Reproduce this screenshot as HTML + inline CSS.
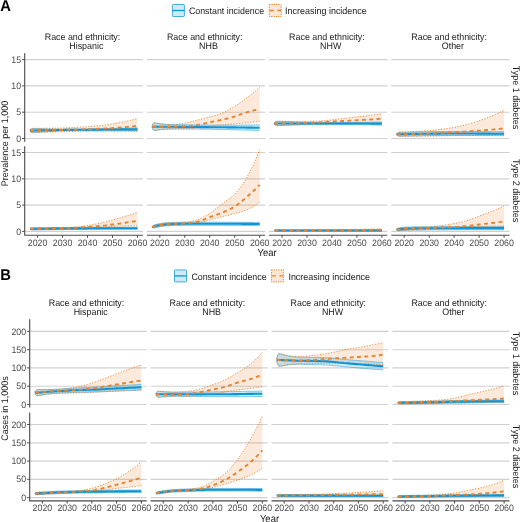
<!DOCTYPE html>
<html><head><meta charset="utf-8"><style>
html,body{margin:0;padding:0;background:#fff;}
svg{display:block;will-change:transform;}
text{font-family:"Liberation Sans", sans-serif;text-rendering:geometricPrecision;}
</style></head><body>
<svg width="520" height="522" viewBox="0 0 520 522">
<rect width="520" height="522" fill="#fff"/>
<text transform="translate(82.5 39.8) scale(0.943 1)" font-size="9.43" text-anchor="middle" fill="#1a1a1a" font-weight="normal">Race and ethnicity:</text>
<text transform="translate(86.3 49) scale(0.943 1)" font-size="9.43" text-anchor="middle" fill="#1a1a1a" font-weight="normal">Hispanic</text>
<text transform="translate(204.7 39.8) scale(0.943 1)" font-size="9.43" text-anchor="middle" fill="#1a1a1a" font-weight="normal">Race and ethnicity:</text>
<text transform="translate(208.5 49) scale(0.943 1)" font-size="9.43" text-anchor="middle" fill="#1a1a1a" font-weight="normal">NHB</text>
<text transform="translate(326.9 39.8) scale(0.943 1)" font-size="9.43" text-anchor="middle" fill="#1a1a1a" font-weight="normal">Race and ethnicity:</text>
<text transform="translate(330.7 49) scale(0.943 1)" font-size="9.43" text-anchor="middle" fill="#1a1a1a" font-weight="normal">NHW</text>
<text transform="translate(449.1 39.8) scale(0.943 1)" font-size="9.43" text-anchor="middle" fill="#1a1a1a" font-weight="normal">Race and ethnicity:</text>
<text transform="translate(452.9 49) scale(0.943 1)" font-size="9.43" text-anchor="middle" fill="#1a1a1a" font-weight="normal">Other</text>
<line x1="24.7" x2="142.9" y1="138.5" y2="138.5" stroke="#d0d0d0" stroke-width="1.15"/>
<line x1="24.7" x2="142.9" y1="112.2" y2="112.2" stroke="#d0d0d0" stroke-width="1.15"/>
<line x1="24.7" x2="142.9" y1="85.9" y2="85.9" stroke="#d0d0d0" stroke-width="1.15"/>
<line x1="24.7" x2="142.9" y1="59.6" y2="59.6" stroke="#d0d0d0" stroke-width="1.15"/>
<path d="M29.9,130.6 L30.1,129.9 L30.6,129.2 L31.4,128.7 L32.4,128.4 L33.4,128.3 L35.9,128.3 L38.4,128.3 L40.9,128.3 L43.4,128.3 L45.8,128.2 L48.3,128.2 L50.8,128.2 L53.3,128.2 L55.7,128.1 L58.2,128.1 L60.7,128 L63.2,128 L65.7,127.9 L68.1,127.8 L70.6,127.7 L73.1,127.6 L75.6,127.5 L78.1,127.3 L80.5,127.2 L83,127 L85.5,126.8 L88,126.6 L90.4,126.4 L92.9,126.2 L95.4,126 L97.9,125.8 L100.4,125.6 L102.8,125.3 L105.3,125 L107.8,124.7 L110.3,124.4 L112.7,124 L115.2,123.6 L117.7,123.1 L120.2,122.6 L122.7,122.1 L125.1,121.6 L127.6,121 L130.1,120.4 L132.6,119.8 L135,119.2 L137.5,118.5 L137.5,131.2 L135,131.2 L132.6,131.2 L130.1,131.2 L127.6,131.2 L125.1,131.2 L122.7,131.2 L120.2,131.2 L117.7,131.2 L115.2,131.2 L112.7,131.2 L110.3,131.2 L107.8,131.2 L105.3,131.2 L102.8,131.2 L100.4,131.2 L97.9,131.2 L95.4,131.2 L92.9,131.2 L90.4,131.2 L88,131.3 L85.5,131.3 L83,131.3 L80.5,131.3 L78.1,131.4 L75.6,131.4 L73.1,131.5 L70.6,131.5 L68.1,131.5 L65.7,131.6 L63.2,131.7 L60.7,131.7 L58.2,131.8 L55.7,131.8 L53.3,131.9 L50.8,132 L48.3,132.1 L45.8,132.2 L43.4,132.2 L40.9,132.3 L38.4,132.4 L35.9,132.5 L33.4,132.6 L32.4,132.5 L31.4,132.3 L30.6,131.8 L30.1,131.3 L29.9,130.6Z" fill="#e5832f" fill-opacity="0.17" stroke="none"/>
<path d="M29.9,130.6 L30.1,129.9 L30.6,129.2 L31.4,128.7 L32.4,128.5 L33.4,128.4 L35.9,128.5 L38.4,128.6 L40.9,128.7 L43.4,128.8 L45.8,128.9 L48.3,128.9 L50.8,129 L53.3,129 L55.7,129.1 L58.2,129.1 L60.7,129.2 L63.2,129.2 L65.7,129.2 L68.1,129.2 L70.6,129.2 L73.1,129.2 L75.6,129.2 L78.1,129.2 L80.5,129.2 L83,129.1 L85.5,129.1 L88,129.1 L90.4,129 L92.9,129 L95.4,129 L97.9,128.9 L100.4,128.9 L102.8,128.8 L105.3,128.7 L107.8,128.7 L110.3,128.6 L112.7,128.5 L115.2,128.5 L117.7,128.4 L120.2,128.3 L122.7,128.3 L125.1,128.2 L127.6,128.1 L130.1,128 L132.6,128 L135,127.9 L137.5,127.8 L137.5,131 L135,130.9 L132.6,130.8 L130.1,130.8 L127.6,130.7 L125.1,130.7 L122.7,130.6 L120.2,130.6 L117.7,130.5 L115.2,130.5 L112.7,130.4 L110.3,130.4 L107.8,130.3 L105.3,130.3 L102.8,130.3 L100.4,130.3 L97.9,130.2 L95.4,130.2 L92.9,130.2 L90.4,130.2 L88,130.2 L85.5,130.3 L83,130.3 L80.5,130.3 L78.1,130.3 L75.6,130.4 L73.1,130.5 L70.6,130.5 L68.1,130.6 L65.7,130.7 L63.2,130.8 L60.7,130.9 L58.2,131 L55.7,131.1 L53.3,131.2 L50.8,131.4 L48.3,131.5 L45.8,131.7 L43.4,131.9 L40.9,132.1 L38.4,132.3 L35.9,132.5 L33.4,132.7 L32.4,132.7 L31.4,132.4 L30.6,132 L30.1,131.3 L29.9,130.6Z" fill="#0d96d6" fill-opacity="0.2" stroke="none"/>
<path d="M137.5,131 L135,130.9 L132.6,130.8 L130.1,130.8 L127.6,130.7 L125.1,130.7 L122.7,130.6 L120.2,130.6 L117.7,130.5 L115.2,130.5 L112.7,130.4 L110.3,130.4 L107.8,130.3 L105.3,130.3 L102.8,130.3 L100.4,130.3 L97.9,130.2 L95.4,130.2 L92.9,130.2 L90.4,130.2 L88,130.2 L85.5,130.3 L83,130.3 L80.5,130.3 L78.1,130.3 L75.6,130.4 L73.1,130.5 L70.6,130.5 L68.1,130.6 L65.7,130.7 L63.2,130.8 L60.7,130.9 L58.2,131 L55.7,131.1 L53.3,131.2 L50.8,131.4 L48.3,131.5 L45.8,131.7 L43.4,131.9 L40.9,132.1 L38.4,132.3 L35.9,132.5 L33.4,132.7 L32.4,132.7 L31.4,132.4 L30.6,132 L30.1,131.3 L29.9,130.6 L30.1,129.9 L30.6,129.2 L31.4,128.7 L32.4,128.5 L33.4,128.4 L35.9,128.5 L38.4,128.6 L40.9,128.7 L43.4,128.8 L45.8,128.9 L48.3,128.9 L50.8,129 L53.3,129 L55.7,129.1 L58.2,129.1 L60.7,129.2 L63.2,129.2 L65.7,129.2 L68.1,129.2 L70.6,129.2 L73.1,129.2 L75.6,129.2 L78.1,129.2 L80.5,129.2 L83,129.1 L85.5,129.1 L88,129.1 L90.4,129 L92.9,129 L95.4,129 L97.9,128.9 L100.4,128.9 L102.8,128.8 L105.3,128.7 L107.8,128.7 L110.3,128.6 L112.7,128.5 L115.2,128.5 L117.7,128.4 L120.2,128.3 L122.7,128.3 L125.1,128.2 L127.6,128.1 L130.1,128 L132.6,128 L135,127.9 L137.5,127.8" fill="none" stroke="#0d96d6" stroke-width="0.6" stroke-opacity="0.8"/>
<path d="M137.5,131.2 L135,131.2 L132.6,131.2 L130.1,131.2 L127.6,131.2 L125.1,131.2 L122.7,131.2 L120.2,131.2 L117.7,131.2 L115.2,131.2 L112.7,131.2 L110.3,131.2 L107.8,131.2 L105.3,131.2 L102.8,131.2 L100.4,131.2 L97.9,131.2 L95.4,131.2 L92.9,131.2 L90.4,131.2 L88,131.3 L85.5,131.3 L83,131.3 L80.5,131.3 L78.1,131.4 L75.6,131.4 L73.1,131.5 L70.6,131.5 L68.1,131.5 L65.7,131.6 L63.2,131.7 L60.7,131.7 L58.2,131.8 L55.7,131.8 L53.3,131.9 L50.8,132 L48.3,132.1 L45.8,132.2 L43.4,132.2 L40.9,132.3 L38.4,132.4 L35.9,132.5 L33.4,132.6 L32.4,132.5 L31.4,132.3 L30.6,131.8 L30.1,131.3 L29.9,130.6 L30.1,129.9 L30.6,129.2 L31.4,128.7 L32.4,128.4 L33.4,128.3 L35.9,128.3 L38.4,128.3 L40.9,128.3 L43.4,128.3 L45.8,128.2 L48.3,128.2 L50.8,128.2 L53.3,128.2 L55.7,128.1 L58.2,128.1 L60.7,128 L63.2,128 L65.7,127.9 L68.1,127.8 L70.6,127.7 L73.1,127.6 L75.6,127.5 L78.1,127.3 L80.5,127.2 L83,127 L85.5,126.8 L88,126.6 L90.4,126.4 L92.9,126.2 L95.4,126 L97.9,125.8 L100.4,125.6 L102.8,125.3 L105.3,125 L107.8,124.7 L110.3,124.4 L112.7,124 L115.2,123.6 L117.7,123.1 L120.2,122.6 L122.7,122.1 L125.1,121.6 L127.6,121 L130.1,120.4 L132.6,119.8 L135,119.2 L137.5,118.5" fill="none" stroke="#e5832f" stroke-width="0.9" stroke-dasharray="1.2 1.6"/>
<path d="M30.1,130.6 L30.6,130.6 L31.4,130.6 L32.4,130.6 L33.4,130.5 L35.9,130.5 L38.4,130.4 L40.9,130.4 L43.4,130.3 L45.8,130.3 L48.3,130.2 L50.8,130.2 L53.3,130.1 L55.7,130.1 L58.2,130 L60.7,130 L63.2,130 L65.7,129.9 L68.1,129.9 L70.6,129.9 L73.1,129.8 L75.6,129.8 L78.1,129.8 L80.5,129.7 L83,129.7 L85.5,129.7 L88,129.7 L90.4,129.6 L92.9,129.6 L95.4,129.6 L97.9,129.6 L100.4,129.6 L102.8,129.5 L105.3,129.5 L107.8,129.5 L110.3,129.5 L112.7,129.5 L115.2,129.5 L117.7,129.5 L120.2,129.4 L122.7,129.4 L125.1,129.4 L127.6,129.4 L130.1,129.4 L132.6,129.4 L135,129.4 L137.5,129.4" fill="none" stroke="#0d96d6" stroke-width="2.1"/>
<path d="M30.1,130.6 L30.6,130.6 L31.4,130.6 L32.4,130.6 L33.4,130.6 L35.9,130.5 L38.4,130.5 L40.9,130.4 L43.4,130.4 L45.8,130.3 L48.3,130.3 L50.8,130.2 L53.3,130.2 L55.7,130.1 L58.2,130.1 L60.7,130 L63.2,130 L65.7,129.9 L68.1,129.8 L70.6,129.8 L73.1,129.7 L75.6,129.7 L78.1,129.6 L80.5,129.5 L83,129.4 L85.5,129.4 L88,129.3 L90.4,129.2 L92.9,129.1 L95.4,129 L97.9,128.8 L100.4,128.7 L102.8,128.6 L105.3,128.4 L107.8,128.3 L110.3,128.1 L112.7,128 L115.2,127.8 L117.7,127.6 L120.2,127.4 L122.7,127.3 L125.1,127.1 L127.6,126.9 L130.1,126.7 L132.6,126.4 L135,126.2 L137.5,126" fill="none" stroke="#e5832f" stroke-width="1.9" stroke-dasharray="3.9 3.4"/>
<line x1="146.9" x2="265.1" y1="138.5" y2="138.5" stroke="#d0d0d0" stroke-width="1.15"/>
<line x1="146.9" x2="265.1" y1="112.2" y2="112.2" stroke="#d0d0d0" stroke-width="1.15"/>
<line x1="146.9" x2="265.1" y1="85.9" y2="85.9" stroke="#d0d0d0" stroke-width="1.15"/>
<line x1="146.9" x2="265.1" y1="59.6" y2="59.6" stroke="#d0d0d0" stroke-width="1.15"/>
<path d="M152.1,126.7 L152.3,125.3 L152.8,124.1 L153.6,123.3 L154.6,122.9 L155.6,122.9 L158.1,123.4 L160.6,123.8 L163.1,124 L165.6,124.3 L168,124.4 L170.5,124.5 L173,124.4 L175.5,124.3 L177.9,124.1 L180.4,123.8 L182.9,123.5 L185.4,123 L187.9,122.5 L190.3,121.9 L192.8,121.3 L195.3,120.6 L197.8,120 L200.3,119.4 L202.7,118.7 L205.2,118.1 L207.7,117.5 L210.2,116.8 L212.6,116.1 L215.1,115.5 L217.6,114.7 L220.1,113.9 L222.6,112.9 L225,111.8 L227.5,110.6 L230,109.2 L232.5,107.8 L234.9,106.2 L237.4,104.6 L239.9,103 L242.4,101.2 L244.9,99.4 L247.3,97.6 L249.8,95.6 L252.3,93.6 L254.8,91.5 L257.2,89.4 L259.7,87.2 L259.7,121.1 L257.2,121.5 L254.8,121.8 L252.3,122.1 L249.8,122.4 L247.3,122.7 L244.9,122.9 L242.4,123.2 L239.9,123.4 L237.4,123.6 L234.9,123.8 L232.5,124 L230,124.2 L227.5,124.4 L225,124.6 L222.6,124.9 L220.1,125.2 L217.6,125.6 L215.1,126 L212.6,126.4 L210.2,126.8 L207.7,127.1 L205.2,127.4 L202.7,127.6 L200.3,127.8 L197.8,128 L195.3,128.2 L192.8,128.4 L190.3,128.5 L187.9,128.6 L185.4,128.7 L182.9,128.8 L180.4,128.8 L177.9,128.8 L175.5,128.8 L173,128.8 L170.5,128.9 L168,129 L165.6,129.1 L163.1,129.3 L160.6,129.6 L158.1,129.9 L155.6,130.4 L154.6,130.4 L153.6,130.1 L152.8,129.2 L152.3,128 L152.1,126.7Z" fill="#e5832f" fill-opacity="0.17" stroke="none"/>
<path d="M152.1,126.7 L152.3,125.3 L152.8,124.1 L153.6,123.3 L154.6,122.9 L155.6,123 L158.1,123.4 L160.6,123.8 L163.1,124.1 L165.6,124.3 L168,124.4 L170.5,124.5 L173,124.6 L175.5,124.7 L177.9,124.7 L180.4,124.7 L182.9,124.8 L185.4,124.8 L187.9,124.8 L190.3,124.9 L192.8,124.9 L195.3,124.9 L197.8,125 L200.3,125 L202.7,125 L205.2,125 L207.7,125 L210.2,125.1 L212.6,125.1 L215.1,125.1 L217.6,125.1 L220.1,125.1 L222.6,125.1 L225,125.1 L227.5,125.1 L230,125.1 L232.5,125.1 L234.9,125.1 L237.4,125.1 L239.9,125.1 L242.4,125 L244.9,125 L247.3,125 L249.8,125 L252.3,124.9 L254.8,124.9 L257.2,124.9 L259.7,124.8 L259.7,130.6 L257.2,130.5 L254.8,130.4 L252.3,130.3 L249.8,130.2 L247.3,130.2 L244.9,130.1 L242.4,130 L239.9,129.9 L237.4,129.9 L234.9,129.8 L232.5,129.7 L230,129.7 L227.5,129.6 L225,129.5 L222.6,129.5 L220.1,129.4 L217.6,129.4 L215.1,129.4 L212.6,129.3 L210.2,129.3 L207.7,129.2 L205.2,129.2 L202.7,129.2 L200.3,129.2 L197.8,129.1 L195.3,129.1 L192.8,129.1 L190.3,129.1 L187.9,129.1 L185.4,129.1 L182.9,129 L180.4,129 L177.9,129 L175.5,129 L173,129.1 L170.5,129.1 L168,129.2 L165.6,129.3 L163.1,129.4 L160.6,129.7 L158.1,130 L155.6,130.4 L154.6,130.5 L153.6,130.1 L152.8,129.2 L152.3,128.1 L152.1,126.7Z" fill="#0d96d6" fill-opacity="0.2" stroke="none"/>
<path d="M259.7,130.6 L257.2,130.5 L254.8,130.4 L252.3,130.3 L249.8,130.2 L247.3,130.2 L244.9,130.1 L242.4,130 L239.9,129.9 L237.4,129.9 L234.9,129.8 L232.5,129.7 L230,129.7 L227.5,129.6 L225,129.5 L222.6,129.5 L220.1,129.4 L217.6,129.4 L215.1,129.4 L212.6,129.3 L210.2,129.3 L207.7,129.2 L205.2,129.2 L202.7,129.2 L200.3,129.2 L197.8,129.1 L195.3,129.1 L192.8,129.1 L190.3,129.1 L187.9,129.1 L185.4,129.1 L182.9,129 L180.4,129 L177.9,129 L175.5,129 L173,129.1 L170.5,129.1 L168,129.2 L165.6,129.3 L163.1,129.4 L160.6,129.7 L158.1,130 L155.6,130.4 L154.6,130.5 L153.6,130.1 L152.8,129.2 L152.3,128.1 L152.1,126.7 L152.3,125.3 L152.8,124.1 L153.6,123.3 L154.6,122.9 L155.6,123 L158.1,123.4 L160.6,123.8 L163.1,124.1 L165.6,124.3 L168,124.4 L170.5,124.5 L173,124.6 L175.5,124.7 L177.9,124.7 L180.4,124.7 L182.9,124.8 L185.4,124.8 L187.9,124.8 L190.3,124.9 L192.8,124.9 L195.3,124.9 L197.8,125 L200.3,125 L202.7,125 L205.2,125 L207.7,125 L210.2,125.1 L212.6,125.1 L215.1,125.1 L217.6,125.1 L220.1,125.1 L222.6,125.1 L225,125.1 L227.5,125.1 L230,125.1 L232.5,125.1 L234.9,125.1 L237.4,125.1 L239.9,125.1 L242.4,125 L244.9,125 L247.3,125 L249.8,125 L252.3,124.9 L254.8,124.9 L257.2,124.9 L259.7,124.8" fill="none" stroke="#0d96d6" stroke-width="0.6" stroke-opacity="0.8"/>
<path d="M259.7,121.1 L257.2,121.5 L254.8,121.8 L252.3,122.1 L249.8,122.4 L247.3,122.7 L244.9,122.9 L242.4,123.2 L239.9,123.4 L237.4,123.6 L234.9,123.8 L232.5,124 L230,124.2 L227.5,124.4 L225,124.6 L222.6,124.9 L220.1,125.2 L217.6,125.6 L215.1,126 L212.6,126.4 L210.2,126.8 L207.7,127.1 L205.2,127.4 L202.7,127.6 L200.3,127.8 L197.8,128 L195.3,128.2 L192.8,128.4 L190.3,128.5 L187.9,128.6 L185.4,128.7 L182.9,128.8 L180.4,128.8 L177.9,128.8 L175.5,128.8 L173,128.8 L170.5,128.9 L168,129 L165.6,129.1 L163.1,129.3 L160.6,129.6 L158.1,129.9 L155.6,130.4 L154.6,130.4 L153.6,130.1 L152.8,129.2 L152.3,128 L152.1,126.7 L152.3,125.3 L152.8,124.1 L153.6,123.3 L154.6,122.9 L155.6,122.9 L158.1,123.4 L160.6,123.8 L163.1,124 L165.6,124.3 L168,124.4 L170.5,124.5 L173,124.4 L175.5,124.3 L177.9,124.1 L180.4,123.8 L182.9,123.5 L185.4,123 L187.9,122.5 L190.3,121.9 L192.8,121.3 L195.3,120.6 L197.8,120 L200.3,119.4 L202.7,118.7 L205.2,118.1 L207.7,117.5 L210.2,116.8 L212.6,116.1 L215.1,115.5 L217.6,114.7 L220.1,113.9 L222.6,112.9 L225,111.8 L227.5,110.6 L230,109.2 L232.5,107.8 L234.9,106.2 L237.4,104.6 L239.9,103 L242.4,101.2 L244.9,99.4 L247.3,97.6 L249.8,95.6 L252.3,93.6 L254.8,91.5 L257.2,89.4 L259.7,87.2" fill="none" stroke="#e5832f" stroke-width="0.9" stroke-dasharray="1.2 1.6"/>
<path d="M152.3,126.7 L152.8,126.7 L153.6,126.7 L154.6,126.7 L155.6,126.7 L158.1,126.7 L160.6,126.7 L163.1,126.7 L165.6,126.8 L168,126.8 L170.5,126.8 L173,126.8 L175.5,126.8 L177.9,126.9 L180.4,126.9 L182.9,126.9 L185.4,126.9 L187.9,127 L190.3,127 L192.8,127 L195.3,127 L197.8,127 L200.3,127.1 L202.7,127.1 L205.2,127.1 L207.7,127.1 L210.2,127.2 L212.6,127.2 L215.1,127.2 L217.6,127.2 L220.1,127.3 L222.6,127.3 L225,127.3 L227.5,127.4 L230,127.4 L232.5,127.4 L234.9,127.4 L237.4,127.5 L239.9,127.5 L242.4,127.5 L244.9,127.5 L247.3,127.6 L249.8,127.6 L252.3,127.6 L254.8,127.7 L257.2,127.7 L259.7,127.7" fill="none" stroke="#0d96d6" stroke-width="2.1"/>
<path d="M152.3,126.7 L152.8,126.7 L153.6,126.7 L154.6,126.7 L155.6,126.7 L158.1,126.7 L160.6,126.7 L163.1,126.7 L165.6,126.7 L168,126.7 L170.5,126.7 L173,126.6 L175.5,126.6 L177.9,126.6 L180.4,126.5 L182.9,126.4 L185.4,126.3 L187.9,126.2 L190.3,125.9 L192.8,125.7 L195.3,125.3 L197.8,124.9 L200.3,124.4 L202.7,123.9 L205.2,123.3 L207.7,122.7 L210.2,122.2 L212.6,121.7 L215.1,121.2 L217.6,120.7 L220.1,120.2 L222.6,119.7 L225,119.1 L227.5,118.5 L230,117.8 L232.5,117.1 L234.9,116.3 L237.4,115.5 L239.9,114.7 L242.4,113.8 L244.9,113 L247.3,112.2 L249.8,111.5 L252.3,110.8 L254.8,110.2 L257.2,109.6 L259.7,109.1" fill="none" stroke="#e5832f" stroke-width="1.9" stroke-dasharray="3.9 3.4"/>
<line x1="269.1" x2="387.3" y1="138.5" y2="138.5" stroke="#d0d0d0" stroke-width="1.15"/>
<line x1="269.1" x2="387.3" y1="112.2" y2="112.2" stroke="#d0d0d0" stroke-width="1.15"/>
<line x1="269.1" x2="387.3" y1="85.9" y2="85.9" stroke="#d0d0d0" stroke-width="1.15"/>
<line x1="269.1" x2="387.3" y1="59.6" y2="59.6" stroke="#d0d0d0" stroke-width="1.15"/>
<path d="M274.3,123.5 L274.5,122.7 L275,122.1 L275.8,121.6 L276.8,121.3 L277.8,121.2 L280.3,121.3 L282.8,121.3 L285.3,121.3 L287.8,121.4 L290.2,121.4 L292.7,121.4 L295.2,121.4 L297.7,121.4 L300.1,121.4 L302.6,121.4 L305.1,121.4 L307.6,121.4 L310.1,121.3 L312.5,121.3 L315,121.2 L317.5,121.1 L320,121 L322.5,120.8 L324.9,120.6 L327.4,120.3 L329.9,120 L332.4,119.7 L334.8,119.4 L337.3,119.1 L339.8,118.8 L342.3,118.6 L344.8,118.3 L347.2,118 L349.7,117.7 L352.2,117.5 L354.7,117.2 L357.1,116.9 L359.6,116.6 L362.1,116.3 L364.6,116 L367.1,115.7 L369.5,115.4 L372,115.1 L374.5,114.8 L377,114.4 L379.4,114.1 L381.9,113.8 L381.9,123.8 L379.4,123.7 L377,123.7 L374.5,123.7 L372,123.6 L369.5,123.6 L367.1,123.6 L364.6,123.5 L362.1,123.5 L359.6,123.5 L357.1,123.5 L354.7,123.4 L352.2,123.4 L349.7,123.4 L347.2,123.4 L344.8,123.4 L342.3,123.4 L339.8,123.4 L337.3,123.4 L334.8,123.4 L332.4,123.4 L329.9,123.5 L327.4,123.5 L324.9,123.5 L322.5,123.6 L320,123.6 L317.5,123.7 L315,123.8 L312.5,123.8 L310.1,123.9 L307.6,124 L305.1,124.1 L302.6,124.2 L300.1,124.4 L297.7,124.5 L295.2,124.6 L292.7,124.7 L290.2,124.9 L287.8,125 L285.3,125.2 L282.8,125.3 L280.3,125.5 L277.8,125.7 L276.8,125.6 L275.8,125.3 L275,124.9 L274.5,124.2 L274.3,123.5Z" fill="#e5832f" fill-opacity="0.17" stroke="none"/>
<path d="M274.3,123.5 L274.5,122.7 L275,122.1 L275.8,121.6 L276.8,121.3 L277.8,121.2 L280.3,121.3 L282.8,121.4 L285.3,121.6 L287.8,121.6 L290.2,121.7 L292.7,121.8 L295.2,121.9 L297.7,122 L300.1,122.1 L302.6,122.1 L305.1,122.2 L307.6,122.2 L310.1,122.3 L312.5,122.3 L315,122.4 L317.5,122.4 L320,122.4 L322.5,122.4 L324.9,122.4 L327.4,122.5 L329.9,122.5 L332.4,122.5 L334.8,122.5 L337.3,122.5 L339.8,122.5 L342.3,122.4 L344.8,122.4 L347.2,122.4 L349.7,122.4 L352.2,122.4 L354.7,122.3 L357.1,122.3 L359.6,122.3 L362.1,122.3 L364.6,122.2 L367.1,122.2 L369.5,122.2 L372,122.1 L374.5,122.1 L377,122.1 L379.4,122 L381.9,122 L381.9,125.1 L379.4,125.1 L377,125.1 L374.5,125 L372,125 L369.5,124.9 L367.1,124.9 L364.6,124.9 L362.1,124.8 L359.6,124.8 L357.1,124.8 L354.7,124.7 L352.2,124.7 L349.7,124.7 L347.2,124.6 L344.8,124.6 L342.3,124.6 L339.8,124.6 L337.3,124.6 L334.8,124.6 L332.4,124.6 L329.9,124.6 L327.4,124.6 L324.9,124.6 L322.5,124.6 L320,124.6 L317.5,124.6 L315,124.6 L312.5,124.7 L310.1,124.7 L307.6,124.7 L305.1,124.8 L302.6,124.8 L300.1,124.9 L297.7,125 L295.2,125 L292.7,125.1 L290.2,125.2 L287.8,125.3 L285.3,125.4 L282.8,125.5 L280.3,125.6 L277.8,125.7 L276.8,125.6 L275.8,125.3 L275,124.8 L274.5,124.2 L274.3,123.5Z" fill="#0d96d6" fill-opacity="0.2" stroke="none"/>
<path d="M381.9,125.1 L379.4,125.1 L377,125.1 L374.5,125 L372,125 L369.5,124.9 L367.1,124.9 L364.6,124.9 L362.1,124.8 L359.6,124.8 L357.1,124.8 L354.7,124.7 L352.2,124.7 L349.7,124.7 L347.2,124.6 L344.8,124.6 L342.3,124.6 L339.8,124.6 L337.3,124.6 L334.8,124.6 L332.4,124.6 L329.9,124.6 L327.4,124.6 L324.9,124.6 L322.5,124.6 L320,124.6 L317.5,124.6 L315,124.6 L312.5,124.7 L310.1,124.7 L307.6,124.7 L305.1,124.8 L302.6,124.8 L300.1,124.9 L297.7,125 L295.2,125 L292.7,125.1 L290.2,125.2 L287.8,125.3 L285.3,125.4 L282.8,125.5 L280.3,125.6 L277.8,125.7 L276.8,125.6 L275.8,125.3 L275,124.8 L274.5,124.2 L274.3,123.5 L274.5,122.7 L275,122.1 L275.8,121.6 L276.8,121.3 L277.8,121.2 L280.3,121.3 L282.8,121.4 L285.3,121.6 L287.8,121.6 L290.2,121.7 L292.7,121.8 L295.2,121.9 L297.7,122 L300.1,122.1 L302.6,122.1 L305.1,122.2 L307.6,122.2 L310.1,122.3 L312.5,122.3 L315,122.4 L317.5,122.4 L320,122.4 L322.5,122.4 L324.9,122.4 L327.4,122.5 L329.9,122.5 L332.4,122.5 L334.8,122.5 L337.3,122.5 L339.8,122.5 L342.3,122.4 L344.8,122.4 L347.2,122.4 L349.7,122.4 L352.2,122.4 L354.7,122.3 L357.1,122.3 L359.6,122.3 L362.1,122.3 L364.6,122.2 L367.1,122.2 L369.5,122.2 L372,122.1 L374.5,122.1 L377,122.1 L379.4,122 L381.9,122" fill="none" stroke="#0d96d6" stroke-width="0.6" stroke-opacity="0.8"/>
<path d="M381.9,123.8 L379.4,123.7 L377,123.7 L374.5,123.7 L372,123.6 L369.5,123.6 L367.1,123.6 L364.6,123.5 L362.1,123.5 L359.6,123.5 L357.1,123.5 L354.7,123.4 L352.2,123.4 L349.7,123.4 L347.2,123.4 L344.8,123.4 L342.3,123.4 L339.8,123.4 L337.3,123.4 L334.8,123.4 L332.4,123.4 L329.9,123.5 L327.4,123.5 L324.9,123.5 L322.5,123.6 L320,123.6 L317.5,123.7 L315,123.8 L312.5,123.8 L310.1,123.9 L307.6,124 L305.1,124.1 L302.6,124.2 L300.1,124.4 L297.7,124.5 L295.2,124.6 L292.7,124.7 L290.2,124.9 L287.8,125 L285.3,125.2 L282.8,125.3 L280.3,125.5 L277.8,125.7 L276.8,125.6 L275.8,125.3 L275,124.9 L274.5,124.2 L274.3,123.5 L274.5,122.7 L275,122.1 L275.8,121.6 L276.8,121.3 L277.8,121.2 L280.3,121.3 L282.8,121.3 L285.3,121.3 L287.8,121.4 L290.2,121.4 L292.7,121.4 L295.2,121.4 L297.7,121.4 L300.1,121.4 L302.6,121.4 L305.1,121.4 L307.6,121.4 L310.1,121.3 L312.5,121.3 L315,121.2 L317.5,121.1 L320,121 L322.5,120.8 L324.9,120.6 L327.4,120.3 L329.9,120 L332.4,119.7 L334.8,119.4 L337.3,119.1 L339.8,118.8 L342.3,118.6 L344.8,118.3 L347.2,118 L349.7,117.7 L352.2,117.5 L354.7,117.2 L357.1,116.9 L359.6,116.6 L362.1,116.3 L364.6,116 L367.1,115.7 L369.5,115.4 L372,115.1 L374.5,114.8 L377,114.4 L379.4,114.1 L381.9,113.8" fill="none" stroke="#e5832f" stroke-width="0.9" stroke-dasharray="1.2 1.6"/>
<path d="M274.5,123.5 L275,123.5 L275.8,123.5 L276.8,123.5 L277.8,123.5 L280.3,123.5 L282.8,123.5 L285.3,123.5 L287.8,123.5 L290.2,123.5 L292.7,123.5 L295.2,123.5 L297.7,123.5 L300.1,123.5 L302.6,123.5 L305.1,123.5 L307.6,123.5 L310.1,123.5 L312.5,123.5 L315,123.5 L317.5,123.5 L320,123.5 L322.5,123.5 L324.9,123.5 L327.4,123.5 L329.9,123.5 L332.4,123.5 L334.8,123.5 L337.3,123.5 L339.8,123.5 L342.3,123.5 L344.8,123.5 L347.2,123.5 L349.7,123.5 L352.2,123.5 L354.7,123.5 L357.1,123.5 L359.6,123.5 L362.1,123.5 L364.6,123.5 L367.1,123.5 L369.5,123.5 L372,123.6 L374.5,123.6 L377,123.6 L379.4,123.6 L381.9,123.6" fill="none" stroke="#0d96d6" stroke-width="2.1"/>
<path d="M274.5,123.5 L275,123.5 L275.8,123.5 L276.8,123.5 L277.8,123.5 L280.3,123.5 L282.8,123.4 L285.3,123.4 L287.8,123.4 L290.2,123.4 L292.7,123.3 L295.2,123.3 L297.7,123.2 L300.1,123.2 L302.6,123.1 L305.1,123 L307.6,122.9 L310.1,122.8 L312.5,122.7 L315,122.6 L317.5,122.4 L320,122.3 L322.5,122.1 L324.9,121.9 L327.4,121.8 L329.9,121.7 L332.4,121.5 L334.8,121.4 L337.3,121.3 L339.8,121.2 L342.3,121 L344.8,120.9 L347.2,120.8 L349.7,120.6 L352.2,120.5 L354.7,120.4 L357.1,120.2 L359.6,120.1 L362.1,119.9 L364.6,119.8 L367.1,119.7 L369.5,119.5 L372,119.4 L374.5,119.2 L377,119 L379.4,118.9 L381.9,118.7" fill="none" stroke="#e5832f" stroke-width="1.9" stroke-dasharray="3.9 3.4"/>
<line x1="391.3" x2="509.5" y1="138.5" y2="138.5" stroke="#d0d0d0" stroke-width="1.15"/>
<line x1="391.3" x2="509.5" y1="112.2" y2="112.2" stroke="#d0d0d0" stroke-width="1.15"/>
<line x1="391.3" x2="509.5" y1="85.9" y2="85.9" stroke="#d0d0d0" stroke-width="1.15"/>
<line x1="391.3" x2="509.5" y1="59.6" y2="59.6" stroke="#d0d0d0" stroke-width="1.15"/>
<path d="M396.5,134.3 L396.7,133.6 L397.2,133 L398,132.6 L399,132.2 L400,132.1 L402.5,132 L405,132 L407.5,131.9 L410,131.8 L412.4,131.6 L414.9,131.5 L417.4,131.4 L419.9,131.2 L422.3,131.1 L424.8,130.9 L427.3,130.7 L429.8,130.5 L432.3,130.3 L434.7,130.1 L437.2,129.8 L439.7,129.5 L442.2,129.2 L444.7,128.8 L447.1,128.5 L449.6,128.1 L452.1,127.7 L454.6,127.3 L457,126.8 L459.5,126.3 L462,125.8 L464.5,125.2 L467,124.5 L469.4,123.8 L471.9,123.1 L474.4,122.3 L476.9,121.6 L479.3,120.7 L481.8,119.9 L484.3,119 L486.8,118.1 L489.3,117.1 L491.7,116.1 L494.2,115 L496.7,113.9 L499.2,112.7 L501.6,111.5 L504.1,110.2 L504.1,135.2 L501.6,135.2 L499.2,135.2 L496.7,135.3 L494.2,135.3 L491.7,135.3 L489.3,135.4 L486.8,135.4 L484.3,135.4 L481.8,135.4 L479.3,135.5 L476.9,135.5 L474.4,135.5 L471.9,135.5 L469.4,135.6 L467,135.6 L464.5,135.6 L462,135.7 L459.5,135.7 L457,135.7 L454.6,135.7 L452.1,135.8 L449.6,135.8 L447.1,135.8 L444.7,135.9 L442.2,135.9 L439.7,135.9 L437.2,135.9 L434.7,136 L432.3,136 L429.8,136 L427.3,136.1 L424.8,136.1 L422.3,136.1 L419.9,136.1 L417.4,136.2 L414.9,136.2 L412.4,136.2 L410,136.2 L407.5,136.3 L405,136.3 L402.5,136.3 L400,136.4 L399,136.3 L398,136 L397.2,135.5 L396.7,134.9 L396.5,134.3Z" fill="#e5832f" fill-opacity="0.17" stroke="none"/>
<path d="M396.5,134.3 L396.7,133.7 L397.2,133.1 L398,132.6 L399,132.3 L400,132.2 L402.5,132.2 L405,132.1 L407.5,132.1 L410,132 L412.4,132 L414.9,131.9 L417.4,131.9 L419.9,131.8 L422.3,131.8 L424.8,131.7 L427.3,131.7 L429.8,131.7 L432.3,131.6 L434.7,131.6 L437.2,131.6 L439.7,131.6 L442.2,131.5 L444.7,131.5 L447.1,131.5 L449.6,131.5 L452.1,131.5 L454.6,131.5 L457,131.5 L459.5,131.5 L462,131.5 L464.5,131.5 L467,131.5 L469.4,131.5 L471.9,131.5 L474.4,131.5 L476.9,131.6 L479.3,131.6 L481.8,131.6 L484.3,131.6 L486.8,131.6 L489.3,131.6 L491.7,131.7 L494.2,131.7 L496.7,131.7 L499.2,131.7 L501.6,131.7 L504.1,131.8 L504.1,135.8 L501.6,135.7 L499.2,135.7 L496.7,135.7 L494.2,135.7 L491.7,135.7 L489.3,135.6 L486.8,135.6 L484.3,135.6 L481.8,135.6 L479.3,135.6 L476.9,135.6 L474.4,135.5 L471.9,135.5 L469.4,135.5 L467,135.5 L464.5,135.5 L462,135.5 L459.5,135.5 L457,135.5 L454.6,135.5 L452.1,135.5 L449.6,135.5 L447.1,135.5 L444.7,135.5 L442.2,135.5 L439.7,135.6 L437.2,135.6 L434.7,135.6 L432.3,135.6 L429.8,135.7 L427.3,135.7 L424.8,135.7 L422.3,135.8 L419.9,135.8 L417.4,135.9 L414.9,135.9 L412.4,135.9 L410,136 L407.5,136.1 L405,136.1 L402.5,136.2 L400,136.2 L399,136.1 L398,135.9 L397.2,135.5 L396.7,134.9 L396.5,134.3Z" fill="#0d96d6" fill-opacity="0.2" stroke="none"/>
<path d="M504.1,135.8 L501.6,135.7 L499.2,135.7 L496.7,135.7 L494.2,135.7 L491.7,135.7 L489.3,135.6 L486.8,135.6 L484.3,135.6 L481.8,135.6 L479.3,135.6 L476.9,135.6 L474.4,135.5 L471.9,135.5 L469.4,135.5 L467,135.5 L464.5,135.5 L462,135.5 L459.5,135.5 L457,135.5 L454.6,135.5 L452.1,135.5 L449.6,135.5 L447.1,135.5 L444.7,135.5 L442.2,135.5 L439.7,135.6 L437.2,135.6 L434.7,135.6 L432.3,135.6 L429.8,135.7 L427.3,135.7 L424.8,135.7 L422.3,135.8 L419.9,135.8 L417.4,135.9 L414.9,135.9 L412.4,135.9 L410,136 L407.5,136.1 L405,136.1 L402.5,136.2 L400,136.2 L399,136.1 L398,135.9 L397.2,135.5 L396.7,134.9 L396.5,134.3 L396.7,133.7 L397.2,133.1 L398,132.6 L399,132.3 L400,132.2 L402.5,132.2 L405,132.1 L407.5,132.1 L410,132 L412.4,132 L414.9,131.9 L417.4,131.9 L419.9,131.8 L422.3,131.8 L424.8,131.7 L427.3,131.7 L429.8,131.7 L432.3,131.6 L434.7,131.6 L437.2,131.6 L439.7,131.6 L442.2,131.5 L444.7,131.5 L447.1,131.5 L449.6,131.5 L452.1,131.5 L454.6,131.5 L457,131.5 L459.5,131.5 L462,131.5 L464.5,131.5 L467,131.5 L469.4,131.5 L471.9,131.5 L474.4,131.5 L476.9,131.6 L479.3,131.6 L481.8,131.6 L484.3,131.6 L486.8,131.6 L489.3,131.6 L491.7,131.7 L494.2,131.7 L496.7,131.7 L499.2,131.7 L501.6,131.7 L504.1,131.8" fill="none" stroke="#0d96d6" stroke-width="0.6" stroke-opacity="0.8"/>
<path d="M504.1,135.2 L501.6,135.2 L499.2,135.2 L496.7,135.3 L494.2,135.3 L491.7,135.3 L489.3,135.4 L486.8,135.4 L484.3,135.4 L481.8,135.4 L479.3,135.5 L476.9,135.5 L474.4,135.5 L471.9,135.5 L469.4,135.6 L467,135.6 L464.5,135.6 L462,135.7 L459.5,135.7 L457,135.7 L454.6,135.7 L452.1,135.8 L449.6,135.8 L447.1,135.8 L444.7,135.9 L442.2,135.9 L439.7,135.9 L437.2,135.9 L434.7,136 L432.3,136 L429.8,136 L427.3,136.1 L424.8,136.1 L422.3,136.1 L419.9,136.1 L417.4,136.2 L414.9,136.2 L412.4,136.2 L410,136.2 L407.5,136.3 L405,136.3 L402.5,136.3 L400,136.4 L399,136.3 L398,136 L397.2,135.5 L396.7,134.9 L396.5,134.3 L396.7,133.6 L397.2,133 L398,132.6 L399,132.2 L400,132.1 L402.5,132 L405,132 L407.5,131.9 L410,131.8 L412.4,131.6 L414.9,131.5 L417.4,131.4 L419.9,131.2 L422.3,131.1 L424.8,130.9 L427.3,130.7 L429.8,130.5 L432.3,130.3 L434.7,130.1 L437.2,129.8 L439.7,129.5 L442.2,129.2 L444.7,128.8 L447.1,128.5 L449.6,128.1 L452.1,127.7 L454.6,127.3 L457,126.8 L459.5,126.3 L462,125.8 L464.5,125.2 L467,124.5 L469.4,123.8 L471.9,123.1 L474.4,122.3 L476.9,121.6 L479.3,120.7 L481.8,119.9 L484.3,119 L486.8,118.1 L489.3,117.1 L491.7,116.1 L494.2,115 L496.7,113.9 L499.2,112.7 L501.6,111.5 L504.1,110.2" fill="none" stroke="#e5832f" stroke-width="0.9" stroke-dasharray="1.2 1.6"/>
<path d="M396.7,134.3 L397.2,134.3 L398,134.3 L399,134.2 L400,134.2 L402.5,134.2 L405,134.1 L407.5,134.1 L410,134 L412.4,133.9 L414.9,133.9 L417.4,133.9 L419.9,133.8 L422.3,133.8 L424.8,133.7 L427.3,133.7 L429.8,133.7 L432.3,133.6 L434.7,133.6 L437.2,133.6 L439.7,133.6 L442.2,133.5 L444.7,133.5 L447.1,133.5 L449.6,133.5 L452.1,133.5 L454.6,133.5 L457,133.5 L459.5,133.5 L462,133.5 L464.5,133.5 L467,133.5 L469.4,133.5 L471.9,133.5 L474.4,133.5 L476.9,133.6 L479.3,133.6 L481.8,133.6 L484.3,133.6 L486.8,133.6 L489.3,133.6 L491.7,133.7 L494.2,133.7 L496.7,133.7 L499.2,133.7 L501.6,133.7 L504.1,133.8" fill="none" stroke="#0d96d6" stroke-width="2.1"/>
<path d="M396.7,134.3 L397.2,134.3 L398,134.3 L399,134.3 L400,134.2 L402.5,134.2 L405,134.2 L407.5,134.1 L410,134.1 L412.4,134 L414.9,133.9 L417.4,133.9 L419.9,133.8 L422.3,133.7 L424.8,133.6 L427.3,133.6 L429.8,133.5 L432.3,133.4 L434.7,133.3 L437.2,133.1 L439.7,133 L442.2,132.9 L444.7,132.7 L447.1,132.6 L449.6,132.5 L452.1,132.4 L454.6,132.3 L457,132.1 L459.5,132 L462,131.8 L464.5,131.6 L467,131.5 L469.4,131.3 L471.9,131.1 L474.4,130.9 L476.9,130.7 L479.3,130.6 L481.8,130.4 L484.3,130.2 L486.8,130 L489.3,129.8 L491.7,129.6 L494.2,129.4 L496.7,129.2 L499.2,128.9 L501.6,128.7 L504.1,128.5" fill="none" stroke="#e5832f" stroke-width="1.9" stroke-dasharray="3.9 3.4"/>
<text transform="translate(512.8 97.5) rotate(90) scale(0.943 1)" font-size="9.54" text-anchor="middle" fill="#1a1a1a" font-weight="normal">Type 1 diabetes</text>
<line x1="24.7" x2="24.7" y1="53.2" y2="141.8" stroke="#4a4a4a" stroke-width="1.1"/>
<line x1="22.1" x2="24.7" y1="138.5" y2="138.5" stroke="#4a4a4a" stroke-width="1"/>
<text transform="translate(21.1 141.6) scale(0.943 1)" font-size="9.33" text-anchor="end" fill="#4d4d4d" font-weight="normal">0</text>
<line x1="22.1" x2="24.7" y1="112.2" y2="112.2" stroke="#4a4a4a" stroke-width="1"/>
<text transform="translate(21.1 115.3) scale(0.943 1)" font-size="9.33" text-anchor="end" fill="#4d4d4d" font-weight="normal">5</text>
<line x1="22.1" x2="24.7" y1="85.9" y2="85.9" stroke="#4a4a4a" stroke-width="1"/>
<text transform="translate(21.1 89) scale(0.943 1)" font-size="9.33" text-anchor="end" fill="#4d4d4d" font-weight="normal">10</text>
<line x1="22.1" x2="24.7" y1="59.6" y2="59.6" stroke="#4a4a4a" stroke-width="1"/>
<text transform="translate(21.1 62.7) scale(0.943 1)" font-size="9.33" text-anchor="end" fill="#4d4d4d" font-weight="normal">15</text>
<line x1="24.7" x2="142.9" y1="231.4" y2="231.4" stroke="#d0d0d0" stroke-width="1.15"/>
<line x1="24.7" x2="142.9" y1="205.1" y2="205.1" stroke="#d0d0d0" stroke-width="1.15"/>
<line x1="24.7" x2="142.9" y1="178.8" y2="178.8" stroke="#d0d0d0" stroke-width="1.15"/>
<line x1="24.7" x2="142.9" y1="152.5" y2="152.5" stroke="#d0d0d0" stroke-width="1.15"/>
<path d="M29.9,228.9 L30.1,228.6 L30.6,228.3 L31.4,228.1 L32.4,228 L33.4,228 L35.9,228 L38.4,227.9 L40.9,227.9 L43.4,227.9 L45.8,227.9 L48.3,227.9 L50.8,227.8 L53.3,227.8 L55.7,227.8 L58.2,227.8 L60.7,227.7 L63.2,227.7 L65.7,227.7 L68.1,227.6 L70.6,227.6 L73.1,227.5 L75.6,227.3 L78.1,227.1 L80.5,226.8 L83,226.4 L85.5,225.9 L88,225.5 L90.4,225.1 L92.9,224.6 L95.4,224.1 L97.9,223.7 L100.4,223.1 L102.8,222.6 L105.3,222 L107.8,221.3 L110.3,220.7 L112.7,220 L115.2,219.3 L117.7,218.6 L120.2,217.8 L122.7,217.1 L125.1,216.3 L127.6,215.6 L130.1,214.8 L132.6,214.1 L135,213.3 L137.5,212.6 L137.5,225.8 L135,225.8 L132.6,225.8 L130.1,225.8 L127.6,225.9 L125.1,226 L122.7,226 L120.2,226.1 L117.7,226.2 L115.2,226.3 L112.7,226.4 L110.3,226.5 L107.8,226.7 L105.3,226.8 L102.8,227 L100.4,227.2 L97.9,227.3 L95.4,227.5 L92.9,227.7 L90.4,227.8 L88,227.9 L85.5,228.1 L83,228.2 L80.5,228.3 L78.1,228.4 L75.6,228.5 L73.1,228.6 L70.6,228.7 L68.1,228.8 L65.7,228.9 L63.2,229 L60.7,229.1 L58.2,229.2 L55.7,229.2 L53.3,229.3 L50.8,229.4 L48.3,229.4 L45.8,229.5 L43.4,229.6 L40.9,229.6 L38.4,229.7 L35.9,229.7 L33.4,229.8 L32.4,229.7 L31.4,229.6 L30.6,229.4 L30.1,229.2 L29.9,228.9Z" fill="#e5832f" fill-opacity="0.17" stroke="none"/>
<path d="M29.9,228.9 L30.1,228.5 L30.6,228.3 L31.4,228 L32.4,227.8 L33.4,227.8 L35.9,227.8 L38.4,227.7 L40.9,227.7 L43.4,227.7 L45.8,227.6 L48.3,227.6 L50.8,227.6 L53.3,227.5 L55.7,227.5 L58.2,227.5 L60.7,227.5 L63.2,227.5 L65.7,227.4 L68.1,227.4 L70.6,227.4 L73.1,227.4 L75.6,227.4 L78.1,227.3 L80.5,227.3 L83,227.3 L85.5,227.3 L88,227.3 L90.4,227.3 L92.9,227.3 L95.4,227.3 L97.9,227.3 L100.4,227.2 L102.8,227.2 L105.3,227.2 L107.8,227.2 L110.3,227.2 L112.7,227.2 L115.2,227.2 L117.7,227.2 L120.2,227.2 L122.7,227.2 L125.1,227.2 L127.6,227.2 L130.1,227.2 L132.6,227.2 L135,227.2 L137.5,227.2 L137.5,229.3 L135,229.3 L132.6,229.3 L130.1,229.3 L127.6,229.3 L125.1,229.3 L122.7,229.3 L120.2,229.3 L117.7,229.3 L115.2,229.3 L112.7,229.3 L110.3,229.3 L107.8,229.3 L105.3,229.3 L102.8,229.3 L100.4,229.4 L97.9,229.4 L95.4,229.4 L92.9,229.4 L90.4,229.4 L88,229.4 L85.5,229.4 L83,229.4 L80.5,229.4 L78.1,229.4 L75.6,229.5 L73.1,229.5 L70.6,229.5 L68.1,229.5 L65.7,229.5 L63.2,229.6 L60.7,229.6 L58.2,229.6 L55.7,229.6 L53.3,229.7 L50.8,229.7 L48.3,229.7 L45.8,229.7 L43.4,229.8 L40.9,229.8 L38.4,229.8 L35.9,229.9 L33.4,229.9 L32.4,229.8 L31.4,229.7 L30.6,229.5 L30.1,229.2 L29.9,228.9Z" fill="#0d96d6" fill-opacity="0.2" stroke="none"/>
<path d="M137.5,229.3 L135,229.3 L132.6,229.3 L130.1,229.3 L127.6,229.3 L125.1,229.3 L122.7,229.3 L120.2,229.3 L117.7,229.3 L115.2,229.3 L112.7,229.3 L110.3,229.3 L107.8,229.3 L105.3,229.3 L102.8,229.3 L100.4,229.4 L97.9,229.4 L95.4,229.4 L92.9,229.4 L90.4,229.4 L88,229.4 L85.5,229.4 L83,229.4 L80.5,229.4 L78.1,229.4 L75.6,229.5 L73.1,229.5 L70.6,229.5 L68.1,229.5 L65.7,229.5 L63.2,229.6 L60.7,229.6 L58.2,229.6 L55.7,229.6 L53.3,229.7 L50.8,229.7 L48.3,229.7 L45.8,229.7 L43.4,229.8 L40.9,229.8 L38.4,229.8 L35.9,229.9 L33.4,229.9 L32.4,229.8 L31.4,229.7 L30.6,229.5 L30.1,229.2 L29.9,228.9 L30.1,228.5 L30.6,228.3 L31.4,228 L32.4,227.8 L33.4,227.8 L35.9,227.8 L38.4,227.7 L40.9,227.7 L43.4,227.7 L45.8,227.6 L48.3,227.6 L50.8,227.6 L53.3,227.5 L55.7,227.5 L58.2,227.5 L60.7,227.5 L63.2,227.5 L65.7,227.4 L68.1,227.4 L70.6,227.4 L73.1,227.4 L75.6,227.4 L78.1,227.3 L80.5,227.3 L83,227.3 L85.5,227.3 L88,227.3 L90.4,227.3 L92.9,227.3 L95.4,227.3 L97.9,227.3 L100.4,227.2 L102.8,227.2 L105.3,227.2 L107.8,227.2 L110.3,227.2 L112.7,227.2 L115.2,227.2 L117.7,227.2 L120.2,227.2 L122.7,227.2 L125.1,227.2 L127.6,227.2 L130.1,227.2 L132.6,227.2 L135,227.2 L137.5,227.2" fill="none" stroke="#0d96d6" stroke-width="0.6" stroke-opacity="0.8"/>
<path d="M137.5,225.8 L135,225.8 L132.6,225.8 L130.1,225.8 L127.6,225.9 L125.1,226 L122.7,226 L120.2,226.1 L117.7,226.2 L115.2,226.3 L112.7,226.4 L110.3,226.5 L107.8,226.7 L105.3,226.8 L102.8,227 L100.4,227.2 L97.9,227.3 L95.4,227.5 L92.9,227.7 L90.4,227.8 L88,227.9 L85.5,228.1 L83,228.2 L80.5,228.3 L78.1,228.4 L75.6,228.5 L73.1,228.6 L70.6,228.7 L68.1,228.8 L65.7,228.9 L63.2,229 L60.7,229.1 L58.2,229.2 L55.7,229.2 L53.3,229.3 L50.8,229.4 L48.3,229.4 L45.8,229.5 L43.4,229.6 L40.9,229.6 L38.4,229.7 L35.9,229.7 L33.4,229.8 L32.4,229.7 L31.4,229.6 L30.6,229.4 L30.1,229.2 L29.9,228.9 L30.1,228.6 L30.6,228.3 L31.4,228.1 L32.4,228 L33.4,228 L35.9,228 L38.4,227.9 L40.9,227.9 L43.4,227.9 L45.8,227.9 L48.3,227.9 L50.8,227.8 L53.3,227.8 L55.7,227.8 L58.2,227.8 L60.7,227.7 L63.2,227.7 L65.7,227.7 L68.1,227.6 L70.6,227.6 L73.1,227.5 L75.6,227.3 L78.1,227.1 L80.5,226.8 L83,226.4 L85.5,225.9 L88,225.5 L90.4,225.1 L92.9,224.6 L95.4,224.1 L97.9,223.7 L100.4,223.1 L102.8,222.6 L105.3,222 L107.8,221.3 L110.3,220.7 L112.7,220 L115.2,219.3 L117.7,218.6 L120.2,217.8 L122.7,217.1 L125.1,216.3 L127.6,215.6 L130.1,214.8 L132.6,214.1 L135,213.3 L137.5,212.6" fill="none" stroke="#e5832f" stroke-width="0.9" stroke-dasharray="1.2 1.6"/>
<path d="M30.1,228.9 L30.6,228.9 L31.4,228.9 L32.4,228.8 L33.4,228.8 L35.9,228.8 L38.4,228.8 L40.9,228.7 L43.4,228.7 L45.8,228.7 L48.3,228.7 L50.8,228.6 L53.3,228.6 L55.7,228.6 L58.2,228.5 L60.7,228.5 L63.2,228.5 L65.7,228.5 L68.1,228.5 L70.6,228.4 L73.1,228.4 L75.6,228.4 L78.1,228.4 L80.5,228.4 L83,228.4 L85.5,228.4 L88,228.3 L90.4,228.3 L92.9,228.3 L95.4,228.3 L97.9,228.3 L100.4,228.3 L102.8,228.3 L105.3,228.3 L107.8,228.3 L110.3,228.3 L112.7,228.3 L115.2,228.3 L117.7,228.3 L120.2,228.3 L122.7,228.3 L125.1,228.3 L127.6,228.3 L130.1,228.3 L132.6,228.2 L135,228.2 L137.5,228.2" fill="none" stroke="#0d96d6" stroke-width="2.1"/>
<path d="M30.1,228.9 L30.6,228.9 L31.4,228.9 L32.4,228.9 L33.4,228.8 L35.9,228.8 L38.4,228.8 L40.9,228.7 L43.4,228.7 L45.8,228.7 L48.3,228.6 L50.8,228.5 L53.3,228.5 L55.7,228.4 L58.2,228.4 L60.7,228.3 L63.2,228.2 L65.7,228.1 L68.1,228 L70.6,228 L73.1,227.8 L75.6,227.7 L78.1,227.6 L80.5,227.5 L83,227.3 L85.5,227.2 L88,227 L90.4,226.8 L92.9,226.6 L95.4,226.4 L97.9,226.1 L100.4,225.9 L102.8,225.6 L105.3,225.4 L107.8,225.1 L110.3,224.8 L112.7,224.5 L115.2,224.2 L117.7,223.8 L120.2,223.5 L122.7,223.1 L125.1,222.8 L127.6,222.4 L130.1,222 L132.6,221.6 L135,221.2 L137.5,220.8" fill="none" stroke="#e5832f" stroke-width="1.9" stroke-dasharray="3.9 3.4"/>
<line x1="146.9" x2="265.1" y1="231.4" y2="231.4" stroke="#d0d0d0" stroke-width="1.15"/>
<line x1="146.9" x2="265.1" y1="205.1" y2="205.1" stroke="#d0d0d0" stroke-width="1.15"/>
<line x1="146.9" x2="265.1" y1="178.8" y2="178.8" stroke="#d0d0d0" stroke-width="1.15"/>
<line x1="146.9" x2="265.1" y1="152.5" y2="152.5" stroke="#d0d0d0" stroke-width="1.15"/>
<path d="M152.1,227 L152.3,226.6 L152.8,226 L153.6,225.5 L154.6,225.1 L155.6,224.8 L158.1,224.2 L160.6,223.7 L163.1,223.3 L165.6,223.1 L168,222.9 L170.5,222.8 L173,222.7 L175.5,222.7 L177.9,222.7 L180.4,222.6 L182.9,222.5 L185.4,222.3 L187.9,222 L190.3,221.6 L192.8,221 L195.3,220.4 L197.8,219.6 L200.3,218.7 L202.7,217.5 L205.2,216.2 L207.7,214.8 L210.2,213.2 L212.6,211.4 L215.1,209.5 L217.6,207.6 L220.1,205.6 L222.6,203.6 L225,201.8 L227.5,200 L230,198.2 L232.5,196.2 L234.9,193.9 L237.4,191.2 L239.9,188.1 L242.4,184.6 L244.9,180.8 L247.3,176.6 L249.8,172.1 L252.3,167.1 L254.8,161.7 L257.2,155.9 L259.7,149.7 L259.7,201.9 L257.2,203.8 L254.8,205.5 L252.3,207.1 L249.8,208.4 L247.3,209.6 L244.9,210.5 L242.4,211.4 L239.9,212.1 L237.4,212.8 L234.9,213.4 L232.5,214.1 L230,214.7 L227.5,215.4 L225,216 L222.6,216.6 L220.1,217.3 L217.6,218 L215.1,218.6 L212.6,219.3 L210.2,220 L207.7,220.6 L205.2,221.2 L202.7,221.8 L200.3,222.3 L197.8,222.8 L195.3,223.2 L192.8,223.6 L190.3,223.9 L187.9,224.2 L185.4,224.5 L182.9,224.7 L180.4,224.8 L177.9,225 L175.5,225.1 L173,225.2 L170.5,225.3 L168,225.5 L165.6,225.7 L163.1,226 L160.6,226.4 L158.1,226.9 L155.6,227.4 L154.6,227.6 L153.6,227.7 L152.8,227.6 L152.3,227.4 L152.1,227Z" fill="#e5832f" fill-opacity="0.17" stroke="none"/>
<path d="M152.1,227 L152.3,226.5 L152.8,225.9 L153.6,225.4 L154.6,224.9 L155.6,224.5 L158.1,224 L160.6,223.5 L163.1,223.1 L165.6,222.8 L168,222.6 L170.5,222.5 L173,222.4 L175.5,222.4 L177.9,222.3 L180.4,222.3 L182.9,222.2 L185.4,222.2 L187.9,222.2 L190.3,222.2 L192.8,222.2 L195.3,222.2 L197.8,222.2 L200.3,222.2 L202.7,222.2 L205.2,222.2 L207.7,222.2 L210.2,222.2 L212.6,222.2 L215.1,222.2 L217.6,222.2 L220.1,222.2 L222.6,222.2 L225,222.2 L227.5,222.2 L230,222.2 L232.5,222.2 L234.9,222.2 L237.4,222.2 L239.9,222.3 L242.4,222.3 L244.9,222.3 L247.3,222.3 L249.8,222.3 L252.3,222.4 L254.8,222.4 L257.2,222.4 L259.7,222.5 L259.7,225.6 L257.2,225.6 L254.8,225.6 L252.3,225.5 L249.8,225.5 L247.3,225.5 L244.9,225.5 L242.4,225.4 L239.9,225.4 L237.4,225.4 L234.9,225.4 L232.5,225.4 L230,225.4 L227.5,225.4 L225,225.3 L222.6,225.3 L220.1,225.3 L217.6,225.3 L215.1,225.3 L212.6,225.3 L210.2,225.3 L207.7,225.3 L205.2,225.3 L202.7,225.3 L200.3,225.3 L197.8,225.3 L195.3,225.3 L192.8,225.3 L190.3,225.3 L187.9,225.3 L185.4,225.4 L182.9,225.4 L180.4,225.4 L177.9,225.5 L175.5,225.5 L173,225.6 L170.5,225.7 L168,225.8 L165.6,226 L163.1,226.2 L160.6,226.6 L158.1,227.1 L155.6,227.7 L154.6,227.9 L153.6,227.9 L152.8,227.8 L152.3,227.5 L152.1,227Z" fill="#0d96d6" fill-opacity="0.2" stroke="none"/>
<path d="M259.7,225.6 L257.2,225.6 L254.8,225.6 L252.3,225.5 L249.8,225.5 L247.3,225.5 L244.9,225.5 L242.4,225.4 L239.9,225.4 L237.4,225.4 L234.9,225.4 L232.5,225.4 L230,225.4 L227.5,225.4 L225,225.3 L222.6,225.3 L220.1,225.3 L217.6,225.3 L215.1,225.3 L212.6,225.3 L210.2,225.3 L207.7,225.3 L205.2,225.3 L202.7,225.3 L200.3,225.3 L197.8,225.3 L195.3,225.3 L192.8,225.3 L190.3,225.3 L187.9,225.3 L185.4,225.4 L182.9,225.4 L180.4,225.4 L177.9,225.5 L175.5,225.5 L173,225.6 L170.5,225.7 L168,225.8 L165.6,226 L163.1,226.2 L160.6,226.6 L158.1,227.1 L155.6,227.7 L154.6,227.9 L153.6,227.9 L152.8,227.8 L152.3,227.5 L152.1,227 L152.3,226.5 L152.8,225.9 L153.6,225.4 L154.6,224.9 L155.6,224.5 L158.1,224 L160.6,223.5 L163.1,223.1 L165.6,222.8 L168,222.6 L170.5,222.5 L173,222.4 L175.5,222.4 L177.9,222.3 L180.4,222.3 L182.9,222.2 L185.4,222.2 L187.9,222.2 L190.3,222.2 L192.8,222.2 L195.3,222.2 L197.8,222.2 L200.3,222.2 L202.7,222.2 L205.2,222.2 L207.7,222.2 L210.2,222.2 L212.6,222.2 L215.1,222.2 L217.6,222.2 L220.1,222.2 L222.6,222.2 L225,222.2 L227.5,222.2 L230,222.2 L232.5,222.2 L234.9,222.2 L237.4,222.2 L239.9,222.3 L242.4,222.3 L244.9,222.3 L247.3,222.3 L249.8,222.3 L252.3,222.4 L254.8,222.4 L257.2,222.4 L259.7,222.5" fill="none" stroke="#0d96d6" stroke-width="0.6" stroke-opacity="0.8"/>
<path d="M259.7,201.9 L257.2,203.8 L254.8,205.5 L252.3,207.1 L249.8,208.4 L247.3,209.6 L244.9,210.5 L242.4,211.4 L239.9,212.1 L237.4,212.8 L234.9,213.4 L232.5,214.1 L230,214.7 L227.5,215.4 L225,216 L222.6,216.6 L220.1,217.3 L217.6,218 L215.1,218.6 L212.6,219.3 L210.2,220 L207.7,220.6 L205.2,221.2 L202.7,221.8 L200.3,222.3 L197.8,222.8 L195.3,223.2 L192.8,223.6 L190.3,223.9 L187.9,224.2 L185.4,224.5 L182.9,224.7 L180.4,224.8 L177.9,225 L175.5,225.1 L173,225.2 L170.5,225.3 L168,225.5 L165.6,225.7 L163.1,226 L160.6,226.4 L158.1,226.9 L155.6,227.4 L154.6,227.6 L153.6,227.7 L152.8,227.6 L152.3,227.4 L152.1,227 L152.3,226.6 L152.8,226 L153.6,225.5 L154.6,225.1 L155.6,224.8 L158.1,224.2 L160.6,223.7 L163.1,223.3 L165.6,223.1 L168,222.9 L170.5,222.8 L173,222.7 L175.5,222.7 L177.9,222.7 L180.4,222.6 L182.9,222.5 L185.4,222.3 L187.9,222 L190.3,221.6 L192.8,221 L195.3,220.4 L197.8,219.6 L200.3,218.7 L202.7,217.5 L205.2,216.2 L207.7,214.8 L210.2,213.2 L212.6,211.4 L215.1,209.5 L217.6,207.6 L220.1,205.6 L222.6,203.6 L225,201.8 L227.5,200 L230,198.2 L232.5,196.2 L234.9,193.9 L237.4,191.2 L239.9,188.1 L242.4,184.6 L244.9,180.8 L247.3,176.6 L249.8,172.1 L252.3,167.1 L254.8,161.7 L257.2,155.9 L259.7,149.7" fill="none" stroke="#e5832f" stroke-width="0.9" stroke-dasharray="1.2 1.6"/>
<path d="M152.3,227 L152.8,226.9 L153.6,226.6 L154.6,226.4 L155.6,226.1 L158.1,225.5 L160.6,225 L163.1,224.7 L165.6,224.4 L168,224.2 L170.5,224.1 L173,224 L175.5,223.9 L177.9,223.9 L180.4,223.8 L182.9,223.8 L185.4,223.8 L187.9,223.8 L190.3,223.8 L192.8,223.8 L195.3,223.8 L197.8,223.8 L200.3,223.8 L202.7,223.7 L205.2,223.7 L207.7,223.7 L210.2,223.7 L212.6,223.7 L215.1,223.7 L217.6,223.8 L220.1,223.8 L222.6,223.8 L225,223.8 L227.5,223.8 L230,223.8 L232.5,223.8 L234.9,223.8 L237.4,223.8 L239.9,223.8 L242.4,223.9 L244.9,223.9 L247.3,223.9 L249.8,223.9 L252.3,223.9 L254.8,224 L257.2,224 L259.7,224" fill="none" stroke="#0d96d6" stroke-width="2.1"/>
<path d="M152.3,227 L152.8,226.8 L153.6,226.6 L154.6,226.4 L155.6,226.1 L158.1,225.5 L160.6,225 L163.1,224.7 L165.6,224.4 L168,224.2 L170.5,224 L173,224 L175.5,223.9 L177.9,223.8 L180.4,223.7 L182.9,223.6 L185.4,223.4 L187.9,223.2 L190.3,222.9 L192.8,222.6 L195.3,222.2 L197.8,221.6 L200.3,220.9 L202.7,220.1 L205.2,219.1 L207.7,218.1 L210.2,217.1 L212.6,216.2 L215.1,215.3 L217.6,214.4 L220.1,213.5 L222.6,212.5 L225,211.5 L227.5,210.4 L230,209.1 L232.5,207.8 L234.9,206.3 L237.4,204.7 L239.9,202.8 L242.4,200.8 L244.9,198.7 L247.3,196.5 L249.8,194.3 L252.3,192 L254.8,189.7 L257.2,187.3 L259.7,184.8" fill="none" stroke="#e5832f" stroke-width="1.9" stroke-dasharray="3.9 3.4"/>
<line x1="269.1" x2="387.3" y1="231.4" y2="231.4" stroke="#d0d0d0" stroke-width="1.15"/>
<line x1="269.1" x2="387.3" y1="205.1" y2="205.1" stroke="#d0d0d0" stroke-width="1.15"/>
<line x1="269.1" x2="387.3" y1="178.8" y2="178.8" stroke="#d0d0d0" stroke-width="1.15"/>
<line x1="269.1" x2="387.3" y1="152.5" y2="152.5" stroke="#d0d0d0" stroke-width="1.15"/>
<path d="M274.3,230.5 L274.5,230.4 L275,230.3 L275.8,230.2 L276.8,230.1 L277.8,230.1 L280.3,230.1 L282.8,230.1 L285.3,230.1 L287.8,230.1 L290.2,230.1 L292.7,230.1 L295.2,230.1 L297.7,230.1 L300.1,230.1 L302.6,230 L305.1,230 L307.6,230 L310.1,230 L312.5,230 L315,230 L317.5,230 L320,229.9 L322.5,229.9 L324.9,229.9 L327.4,229.9 L329.9,229.8 L332.4,229.8 L334.8,229.8 L337.3,229.7 L339.8,229.7 L342.3,229.7 L344.8,229.6 L347.2,229.6 L349.7,229.5 L352.2,229.5 L354.7,229.4 L357.1,229.4 L359.6,229.3 L362.1,229.3 L364.6,229.2 L367.1,229.1 L369.5,229.1 L372,229 L374.5,229 L377,228.9 L379.4,228.8 L381.9,228.8 L381.9,230.9 L379.4,230.9 L377,230.9 L374.5,230.9 L372,230.9 L369.5,230.9 L367.1,230.9 L364.6,230.9 L362.1,230.9 L359.6,230.9 L357.1,230.9 L354.7,230.9 L352.2,230.9 L349.7,230.9 L347.2,230.9 L344.8,230.9 L342.3,230.9 L339.8,230.9 L337.3,230.9 L334.8,230.9 L332.4,230.9 L329.9,230.9 L327.4,230.9 L324.9,230.9 L322.5,230.9 L320,230.9 L317.5,230.9 L315,230.9 L312.5,230.9 L310.1,230.9 L307.6,230.9 L305.1,230.9 L302.6,230.9 L300.1,230.9 L297.7,230.9 L295.2,230.9 L292.7,230.9 L290.2,230.9 L287.8,230.9 L285.3,230.9 L282.8,230.9 L280.3,230.9 L277.8,230.9 L276.8,230.9 L275.8,230.8 L275,230.7 L274.5,230.6 L274.3,230.5Z" fill="#e5832f" fill-opacity="0.17" stroke="none"/>
<path d="M274.3,230.5 L274.5,230.3 L275,230.1 L275.8,230 L276.8,229.9 L277.8,229.9 L280.3,229.9 L282.8,229.9 L285.3,229.9 L287.8,229.9 L290.2,229.9 L292.7,229.9 L295.2,229.9 L297.7,229.9 L300.1,229.9 L302.6,229.9 L305.1,229.9 L307.6,229.9 L310.1,229.9 L312.5,229.9 L315,229.9 L317.5,229.9 L320,229.9 L322.5,229.9 L324.9,229.9 L327.4,229.9 L329.9,229.9 L332.4,229.9 L334.8,229.9 L337.3,229.9 L339.8,229.9 L342.3,229.9 L344.8,229.9 L347.2,229.9 L349.7,229.9 L352.2,229.9 L354.7,229.9 L357.1,229.9 L359.6,229.9 L362.1,229.9 L364.6,229.9 L367.1,229.9 L369.5,229.9 L372,229.9 L374.5,229.9 L377,229.9 L379.4,229.9 L381.9,229.9 L381.9,231.1 L379.4,231.1 L377,231.1 L374.5,231.1 L372,231.1 L369.5,231.1 L367.1,231.1 L364.6,231.1 L362.1,231.1 L359.6,231.1 L357.1,231.1 L354.7,231.1 L352.2,231.1 L349.7,231.1 L347.2,231.1 L344.8,231.1 L342.3,231.1 L339.8,231.1 L337.3,231.1 L334.8,231.1 L332.4,231.1 L329.9,231.1 L327.4,231.1 L324.9,231.1 L322.5,231.1 L320,231.1 L317.5,231.1 L315,231.1 L312.5,231.1 L310.1,231.1 L307.6,231.1 L305.1,231.1 L302.6,231.1 L300.1,231.1 L297.7,231.1 L295.2,231.1 L292.7,231.1 L290.2,231.1 L287.8,231.1 L285.3,231.1 L282.8,231.1 L280.3,231.1 L277.8,231.1 L276.8,231.1 L275.8,231 L275,230.9 L274.5,230.7 L274.3,230.5Z" fill="#0d96d6" fill-opacity="0.2" stroke="none"/>
<path d="M381.9,231.1 L379.4,231.1 L377,231.1 L374.5,231.1 L372,231.1 L369.5,231.1 L367.1,231.1 L364.6,231.1 L362.1,231.1 L359.6,231.1 L357.1,231.1 L354.7,231.1 L352.2,231.1 L349.7,231.1 L347.2,231.1 L344.8,231.1 L342.3,231.1 L339.8,231.1 L337.3,231.1 L334.8,231.1 L332.4,231.1 L329.9,231.1 L327.4,231.1 L324.9,231.1 L322.5,231.1 L320,231.1 L317.5,231.1 L315,231.1 L312.5,231.1 L310.1,231.1 L307.6,231.1 L305.1,231.1 L302.6,231.1 L300.1,231.1 L297.7,231.1 L295.2,231.1 L292.7,231.1 L290.2,231.1 L287.8,231.1 L285.3,231.1 L282.8,231.1 L280.3,231.1 L277.8,231.1 L276.8,231.1 L275.8,231 L275,230.9 L274.5,230.7 L274.3,230.5 L274.5,230.3 L275,230.1 L275.8,230 L276.8,229.9 L277.8,229.9 L280.3,229.9 L282.8,229.9 L285.3,229.9 L287.8,229.9 L290.2,229.9 L292.7,229.9 L295.2,229.9 L297.7,229.9 L300.1,229.9 L302.6,229.9 L305.1,229.9 L307.6,229.9 L310.1,229.9 L312.5,229.9 L315,229.9 L317.5,229.9 L320,229.9 L322.5,229.9 L324.9,229.9 L327.4,229.9 L329.9,229.9 L332.4,229.9 L334.8,229.9 L337.3,229.9 L339.8,229.9 L342.3,229.9 L344.8,229.9 L347.2,229.9 L349.7,229.9 L352.2,229.9 L354.7,229.9 L357.1,229.9 L359.6,229.9 L362.1,229.9 L364.6,229.9 L367.1,229.9 L369.5,229.9 L372,229.9 L374.5,229.9 L377,229.9 L379.4,229.9 L381.9,229.9" fill="none" stroke="#0d96d6" stroke-width="0.6" stroke-opacity="0.8"/>
<path d="M381.9,230.9 L379.4,230.9 L377,230.9 L374.5,230.9 L372,230.9 L369.5,230.9 L367.1,230.9 L364.6,230.9 L362.1,230.9 L359.6,230.9 L357.1,230.9 L354.7,230.9 L352.2,230.9 L349.7,230.9 L347.2,230.9 L344.8,230.9 L342.3,230.9 L339.8,230.9 L337.3,230.9 L334.8,230.9 L332.4,230.9 L329.9,230.9 L327.4,230.9 L324.9,230.9 L322.5,230.9 L320,230.9 L317.5,230.9 L315,230.9 L312.5,230.9 L310.1,230.9 L307.6,230.9 L305.1,230.9 L302.6,230.9 L300.1,230.9 L297.7,230.9 L295.2,230.9 L292.7,230.9 L290.2,230.9 L287.8,230.9 L285.3,230.9 L282.8,230.9 L280.3,230.9 L277.8,230.9 L276.8,230.9 L275.8,230.8 L275,230.7 L274.5,230.6 L274.3,230.5 L274.5,230.4 L275,230.3 L275.8,230.2 L276.8,230.1 L277.8,230.1 L280.3,230.1 L282.8,230.1 L285.3,230.1 L287.8,230.1 L290.2,230.1 L292.7,230.1 L295.2,230.1 L297.7,230.1 L300.1,230.1 L302.6,230 L305.1,230 L307.6,230 L310.1,230 L312.5,230 L315,230 L317.5,230 L320,229.9 L322.5,229.9 L324.9,229.9 L327.4,229.9 L329.9,229.8 L332.4,229.8 L334.8,229.8 L337.3,229.7 L339.8,229.7 L342.3,229.7 L344.8,229.6 L347.2,229.6 L349.7,229.5 L352.2,229.5 L354.7,229.4 L357.1,229.4 L359.6,229.3 L362.1,229.3 L364.6,229.2 L367.1,229.1 L369.5,229.1 L372,229 L374.5,229 L377,228.9 L379.4,228.8 L381.9,228.8" fill="none" stroke="#e5832f" stroke-width="0.9" stroke-dasharray="1.2 1.6"/>
<path d="M274.5,230.5 L275,230.5 L275.8,230.5 L276.8,230.5 L277.8,230.5 L280.3,230.5 L282.8,230.5 L285.3,230.5 L287.8,230.5 L290.2,230.5 L292.7,230.5 L295.2,230.5 L297.7,230.5 L300.1,230.5 L302.6,230.5 L305.1,230.5 L307.6,230.5 L310.1,230.5 L312.5,230.5 L315,230.5 L317.5,230.5 L320,230.5 L322.5,230.5 L324.9,230.5 L327.4,230.5 L329.9,230.5 L332.4,230.5 L334.8,230.5 L337.3,230.5 L339.8,230.5 L342.3,230.5 L344.8,230.5 L347.2,230.5 L349.7,230.5 L352.2,230.5 L354.7,230.5 L357.1,230.5 L359.6,230.5 L362.1,230.5 L364.6,230.5 L367.1,230.5 L369.5,230.5 L372,230.5 L374.5,230.5 L377,230.5 L379.4,230.5 L381.9,230.5" fill="none" stroke="#0d96d6" stroke-width="2.1"/>
<path d="M274.5,230.5 L275,230.5 L275.8,230.5 L276.8,230.5 L277.8,230.5 L280.3,230.5 L282.8,230.5 L285.3,230.5 L287.8,230.5 L290.2,230.5 L292.7,230.5 L295.2,230.5 L297.7,230.5 L300.1,230.5 L302.6,230.5 L305.1,230.5 L307.6,230.5 L310.1,230.5 L312.5,230.4 L315,230.4 L317.5,230.4 L320,230.4 L322.5,230.4 L324.9,230.4 L327.4,230.4 L329.9,230.4 L332.4,230.3 L334.8,230.3 L337.3,230.3 L339.8,230.3 L342.3,230.3 L344.8,230.2 L347.2,230.2 L349.7,230.2 L352.2,230.2 L354.7,230.1 L357.1,230.1 L359.6,230.1 L362.1,230.1 L364.6,230 L367.1,230 L369.5,230 L372,229.9 L374.5,229.9 L377,229.9 L379.4,229.9 L381.9,229.8" fill="none" stroke="#e5832f" stroke-width="1.9" stroke-dasharray="3.9 3.4"/>
<line x1="391.3" x2="509.5" y1="231.4" y2="231.4" stroke="#d0d0d0" stroke-width="1.15"/>
<line x1="391.3" x2="509.5" y1="205.1" y2="205.1" stroke="#d0d0d0" stroke-width="1.15"/>
<line x1="391.3" x2="509.5" y1="178.8" y2="178.8" stroke="#d0d0d0" stroke-width="1.15"/>
<line x1="391.3" x2="509.5" y1="152.5" y2="152.5" stroke="#d0d0d0" stroke-width="1.15"/>
<path d="M396.5,229.6 L396.7,229.3 L397.2,229 L398,228.7 L399,228.5 L400,228.3 L402.5,228 L405,227.8 L407.5,227.6 L410,227.5 L412.4,227.4 L414.9,227.3 L417.4,227.2 L419.9,227.2 L422.3,227.1 L424.8,227 L427.3,226.9 L429.8,226.7 L432.3,226.5 L434.7,226.3 L437.2,226.1 L439.7,225.8 L442.2,225.5 L444.7,225.2 L447.1,224.8 L449.6,224.4 L452.1,223.9 L454.6,223.4 L457,222.9 L459.5,222.4 L462,221.9 L464.5,221.2 L467,220.6 L469.4,219.8 L471.9,218.9 L474.4,218 L476.9,217.1 L479.3,216.1 L481.8,215.2 L484.3,214.3 L486.8,213.4 L489.3,212.5 L491.7,211.5 L494.2,210.5 L496.7,209.4 L499.2,208.2 L501.6,207 L504.1,205.7 L504.1,226.1 L501.6,226.1 L499.2,226.1 L496.7,226.1 L494.2,226.1 L491.7,226.1 L489.3,226.2 L486.8,226.2 L484.3,226.3 L481.8,226.4 L479.3,226.4 L476.9,226.5 L474.4,226.7 L471.9,226.8 L469.4,226.9 L467,227 L464.5,227.2 L462,227.4 L459.5,227.5 L457,227.7 L454.6,227.9 L452.1,228.1 L449.6,228.3 L447.1,228.5 L444.7,228.7 L442.2,228.9 L439.7,229 L437.2,229.2 L434.7,229.3 L432.3,229.4 L429.8,229.5 L427.3,229.6 L424.8,229.7 L422.3,229.8 L419.9,229.9 L417.4,229.9 L414.9,230 L412.4,230.1 L410,230.1 L407.5,230.2 L405,230.2 L402.5,230.3 L400,230.3 L399,230.3 L398,230.1 L397.2,230 L396.7,229.8 L396.5,229.6Z" fill="#e5832f" fill-opacity="0.17" stroke="none"/>
<path d="M396.5,229.6 L396.7,229.1 L397.2,228.6 L398,228.1 L399,227.8 L400,227.6 L402.5,227.3 L405,227.1 L407.5,227 L410,227 L412.4,226.9 L414.9,226.8 L417.4,226.8 L419.9,226.8 L422.3,226.7 L424.8,226.7 L427.3,226.7 L429.8,226.7 L432.3,226.7 L434.7,226.6 L437.2,226.6 L439.7,226.6 L442.2,226.6 L444.7,226.6 L447.1,226.6 L449.6,226.6 L452.1,226.6 L454.6,226.6 L457,226.6 L459.5,226.6 L462,226.6 L464.5,226.5 L467,226.5 L469.4,226.5 L471.9,226.5 L474.4,226.5 L476.9,226.5 L479.3,226.5 L481.8,226.5 L484.3,226.5 L486.8,226.5 L489.3,226.5 L491.7,226.5 L494.2,226.5 L496.7,226.5 L499.2,226.5 L501.6,226.6 L504.1,226.6 L504.1,229.7 L501.6,229.7 L499.2,229.7 L496.7,229.7 L494.2,229.7 L491.7,229.7 L489.3,229.7 L486.8,229.7 L484.3,229.7 L481.8,229.7 L479.3,229.7 L476.9,229.7 L474.4,229.7 L471.9,229.7 L469.4,229.7 L467,229.7 L464.5,229.7 L462,229.7 L459.5,229.7 L457,229.7 L454.6,229.7 L452.1,229.7 L449.6,229.7 L447.1,229.8 L444.7,229.8 L442.2,229.8 L439.7,229.8 L437.2,229.8 L434.7,229.8 L432.3,229.8 L429.8,229.8 L427.3,229.8 L424.8,229.9 L422.3,229.9 L419.9,229.9 L417.4,230 L414.9,230 L412.4,230.1 L410,230.1 L407.5,230.2 L405,230.3 L402.5,230.5 L400,230.7 L399,230.8 L398,230.7 L397.2,230.4 L396.7,230.1 L396.5,229.6Z" fill="#0d96d6" fill-opacity="0.2" stroke="none"/>
<path d="M504.1,229.7 L501.6,229.7 L499.2,229.7 L496.7,229.7 L494.2,229.7 L491.7,229.7 L489.3,229.7 L486.8,229.7 L484.3,229.7 L481.8,229.7 L479.3,229.7 L476.9,229.7 L474.4,229.7 L471.9,229.7 L469.4,229.7 L467,229.7 L464.5,229.7 L462,229.7 L459.5,229.7 L457,229.7 L454.6,229.7 L452.1,229.7 L449.6,229.7 L447.1,229.8 L444.7,229.8 L442.2,229.8 L439.7,229.8 L437.2,229.8 L434.7,229.8 L432.3,229.8 L429.8,229.8 L427.3,229.8 L424.8,229.9 L422.3,229.9 L419.9,229.9 L417.4,230 L414.9,230 L412.4,230.1 L410,230.1 L407.5,230.2 L405,230.3 L402.5,230.5 L400,230.7 L399,230.8 L398,230.7 L397.2,230.4 L396.7,230.1 L396.5,229.6 L396.7,229.1 L397.2,228.6 L398,228.1 L399,227.8 L400,227.6 L402.5,227.3 L405,227.1 L407.5,227 L410,227 L412.4,226.9 L414.9,226.8 L417.4,226.8 L419.9,226.8 L422.3,226.7 L424.8,226.7 L427.3,226.7 L429.8,226.7 L432.3,226.7 L434.7,226.6 L437.2,226.6 L439.7,226.6 L442.2,226.6 L444.7,226.6 L447.1,226.6 L449.6,226.6 L452.1,226.6 L454.6,226.6 L457,226.6 L459.5,226.6 L462,226.6 L464.5,226.5 L467,226.5 L469.4,226.5 L471.9,226.5 L474.4,226.5 L476.9,226.5 L479.3,226.5 L481.8,226.5 L484.3,226.5 L486.8,226.5 L489.3,226.5 L491.7,226.5 L494.2,226.5 L496.7,226.5 L499.2,226.5 L501.6,226.6 L504.1,226.6" fill="none" stroke="#0d96d6" stroke-width="0.6" stroke-opacity="0.8"/>
<path d="M504.1,226.1 L501.6,226.1 L499.2,226.1 L496.7,226.1 L494.2,226.1 L491.7,226.1 L489.3,226.2 L486.8,226.2 L484.3,226.3 L481.8,226.4 L479.3,226.4 L476.9,226.5 L474.4,226.7 L471.9,226.8 L469.4,226.9 L467,227 L464.5,227.2 L462,227.4 L459.5,227.5 L457,227.7 L454.6,227.9 L452.1,228.1 L449.6,228.3 L447.1,228.5 L444.7,228.7 L442.2,228.9 L439.7,229 L437.2,229.2 L434.7,229.3 L432.3,229.4 L429.8,229.5 L427.3,229.6 L424.8,229.7 L422.3,229.8 L419.9,229.9 L417.4,229.9 L414.9,230 L412.4,230.1 L410,230.1 L407.5,230.2 L405,230.2 L402.5,230.3 L400,230.3 L399,230.3 L398,230.1 L397.2,230 L396.7,229.8 L396.5,229.6 L396.7,229.3 L397.2,229 L398,228.7 L399,228.5 L400,228.3 L402.5,228 L405,227.8 L407.5,227.6 L410,227.5 L412.4,227.4 L414.9,227.3 L417.4,227.2 L419.9,227.2 L422.3,227.1 L424.8,227 L427.3,226.9 L429.8,226.7 L432.3,226.5 L434.7,226.3 L437.2,226.1 L439.7,225.8 L442.2,225.5 L444.7,225.2 L447.1,224.8 L449.6,224.4 L452.1,223.9 L454.6,223.4 L457,222.9 L459.5,222.4 L462,221.9 L464.5,221.2 L467,220.6 L469.4,219.8 L471.9,218.9 L474.4,218 L476.9,217.1 L479.3,216.1 L481.8,215.2 L484.3,214.3 L486.8,213.4 L489.3,212.5 L491.7,211.5 L494.2,210.5 L496.7,209.4 L499.2,208.2 L501.6,207 L504.1,205.7" fill="none" stroke="#e5832f" stroke-width="0.9" stroke-dasharray="1.2 1.6"/>
<path d="M396.7,229.6 L397.2,229.5 L398,229.4 L399,229.3 L400,229.1 L402.5,228.9 L405,228.7 L407.5,228.6 L410,228.5 L412.4,228.5 L414.9,228.4 L417.4,228.4 L419.9,228.3 L422.3,228.3 L424.8,228.3 L427.3,228.3 L429.8,228.2 L432.3,228.2 L434.7,228.2 L437.2,228.2 L439.7,228.2 L442.2,228.2 L444.7,228.2 L447.1,228.2 L449.6,228.2 L452.1,228.2 L454.6,228.2 L457,228.1 L459.5,228.1 L462,228.1 L464.5,228.1 L467,228.1 L469.4,228.1 L471.9,228.1 L474.4,228.1 L476.9,228.1 L479.3,228.1 L481.8,228.1 L484.3,228.1 L486.8,228.1 L489.3,228.1 L491.7,228.1 L494.2,228.1 L496.7,228.1 L499.2,228.1 L501.6,228.1 L504.1,228.1" fill="none" stroke="#0d96d6" stroke-width="2.1"/>
<path d="M396.7,229.6 L397.2,229.5 L398,229.4 L399,229.3 L400,229.1 L402.5,228.9 L405,228.7 L407.5,228.6 L410,228.5 L412.4,228.4 L414.9,228.4 L417.4,228.3 L419.9,228.2 L422.3,228.2 L424.8,228.1 L427.3,228 L429.8,228 L432.3,227.9 L434.7,227.8 L437.2,227.7 L439.7,227.6 L442.2,227.5 L444.7,227.4 L447.1,227.3 L449.6,227.2 L452.1,227.1 L454.6,227 L457,226.9 L459.5,226.7 L462,226.5 L464.5,226.3 L467,226.1 L469.4,225.8 L471.9,225.5 L474.4,225.2 L476.9,224.8 L479.3,224.5 L481.8,224.2 L484.3,223.9 L486.8,223.6 L489.3,223.3 L491.7,223 L494.2,222.7 L496.7,222.4 L499.2,222.1 L501.6,221.9 L504.1,221.6" fill="none" stroke="#e5832f" stroke-width="1.9" stroke-dasharray="3.9 3.4"/>
<text transform="translate(512.8 190.6) rotate(90) scale(0.943 1)" font-size="9.54" text-anchor="middle" fill="#1a1a1a" font-weight="normal">Type 2 diabetes</text>
<path d="M24.7,146.3 L24.7,235.2 L142.9,235.2" fill="none" stroke="#4a4a4a" stroke-width="1.1" stroke-linejoin="round"/>
<line x1="22.1" x2="24.7" y1="231.4" y2="231.4" stroke="#4a4a4a" stroke-width="1"/>
<text transform="translate(21.1 234.5) scale(0.943 1)" font-size="9.33" text-anchor="end" fill="#4d4d4d" font-weight="normal">0</text>
<line x1="22.1" x2="24.7" y1="205.1" y2="205.1" stroke="#4a4a4a" stroke-width="1"/>
<text transform="translate(21.1 208.2) scale(0.943 1)" font-size="9.33" text-anchor="end" fill="#4d4d4d" font-weight="normal">5</text>
<line x1="22.1" x2="24.7" y1="178.8" y2="178.8" stroke="#4a4a4a" stroke-width="1"/>
<text transform="translate(21.1 181.9) scale(0.943 1)" font-size="9.33" text-anchor="end" fill="#4d4d4d" font-weight="normal">10</text>
<line x1="22.1" x2="24.7" y1="152.5" y2="152.5" stroke="#4a4a4a" stroke-width="1"/>
<text transform="translate(21.1 155.6) scale(0.943 1)" font-size="9.33" text-anchor="end" fill="#4d4d4d" font-weight="normal">15</text>
<line x1="37.6" x2="37.6" y1="235.2" y2="237.8" stroke="#4a4a4a" stroke-width="1"/>
<text transform="translate(37.6 245.9) scale(0.943 1)" font-size="9.33" text-anchor="middle" fill="#4d4d4d" font-weight="normal">2020</text>
<line x1="62.6" x2="62.6" y1="235.2" y2="237.8" stroke="#4a4a4a" stroke-width="1"/>
<text transform="translate(62.6 245.9) scale(0.943 1)" font-size="9.33" text-anchor="middle" fill="#4d4d4d" font-weight="normal">2030</text>
<line x1="87.5" x2="87.5" y1="235.2" y2="237.8" stroke="#4a4a4a" stroke-width="1"/>
<text transform="translate(87.5 245.9) scale(0.943 1)" font-size="9.33" text-anchor="middle" fill="#4d4d4d" font-weight="normal">2040</text>
<line x1="112.5" x2="112.5" y1="235.2" y2="237.8" stroke="#4a4a4a" stroke-width="1"/>
<text transform="translate(112.5 245.9) scale(0.943 1)" font-size="9.33" text-anchor="middle" fill="#4d4d4d" font-weight="normal">2050</text>
<line x1="137.5" x2="137.5" y1="235.2" y2="237.8" stroke="#4a4a4a" stroke-width="1"/>
<text transform="translate(137.5 245.9) scale(0.943 1)" font-size="9.33" text-anchor="middle" fill="#4d4d4d" font-weight="normal">2060</text>
<line x1="146.9" x2="265.1" y1="235.2" y2="235.2" stroke="#4a4a4a" stroke-width="1.1"/>
<line x1="159.8" x2="159.8" y1="235.2" y2="237.8" stroke="#4a4a4a" stroke-width="1"/>
<text transform="translate(159.8 245.9) scale(0.943 1)" font-size="9.33" text-anchor="middle" fill="#4d4d4d" font-weight="normal">2020</text>
<line x1="184.8" x2="184.8" y1="235.2" y2="237.8" stroke="#4a4a4a" stroke-width="1"/>
<text transform="translate(184.8 245.9) scale(0.943 1)" font-size="9.33" text-anchor="middle" fill="#4d4d4d" font-weight="normal">2030</text>
<line x1="209.7" x2="209.7" y1="235.2" y2="237.8" stroke="#4a4a4a" stroke-width="1"/>
<text transform="translate(209.7 245.9) scale(0.943 1)" font-size="9.33" text-anchor="middle" fill="#4d4d4d" font-weight="normal">2040</text>
<line x1="234.7" x2="234.7" y1="235.2" y2="237.8" stroke="#4a4a4a" stroke-width="1"/>
<text transform="translate(234.7 245.9) scale(0.943 1)" font-size="9.33" text-anchor="middle" fill="#4d4d4d" font-weight="normal">2050</text>
<line x1="259.7" x2="259.7" y1="235.2" y2="237.8" stroke="#4a4a4a" stroke-width="1"/>
<text transform="translate(259.7 245.9) scale(0.943 1)" font-size="9.33" text-anchor="middle" fill="#4d4d4d" font-weight="normal">2060</text>
<line x1="269.1" x2="387.3" y1="235.2" y2="235.2" stroke="#4a4a4a" stroke-width="1.1"/>
<line x1="282" x2="282" y1="235.2" y2="237.8" stroke="#4a4a4a" stroke-width="1"/>
<text transform="translate(282 245.9) scale(0.943 1)" font-size="9.33" text-anchor="middle" fill="#4d4d4d" font-weight="normal">2020</text>
<line x1="307" x2="307" y1="235.2" y2="237.8" stroke="#4a4a4a" stroke-width="1"/>
<text transform="translate(307 245.9) scale(0.943 1)" font-size="9.33" text-anchor="middle" fill="#4d4d4d" font-weight="normal">2030</text>
<line x1="331.9" x2="331.9" y1="235.2" y2="237.8" stroke="#4a4a4a" stroke-width="1"/>
<text transform="translate(331.9 245.9) scale(0.943 1)" font-size="9.33" text-anchor="middle" fill="#4d4d4d" font-weight="normal">2040</text>
<line x1="356.9" x2="356.9" y1="235.2" y2="237.8" stroke="#4a4a4a" stroke-width="1"/>
<text transform="translate(356.9 245.9) scale(0.943 1)" font-size="9.33" text-anchor="middle" fill="#4d4d4d" font-weight="normal">2050</text>
<line x1="381.9" x2="381.9" y1="235.2" y2="237.8" stroke="#4a4a4a" stroke-width="1"/>
<text transform="translate(381.9 245.9) scale(0.943 1)" font-size="9.33" text-anchor="middle" fill="#4d4d4d" font-weight="normal">2060</text>
<line x1="391.3" x2="509.5" y1="235.2" y2="235.2" stroke="#4a4a4a" stroke-width="1.1"/>
<line x1="404.2" x2="404.2" y1="235.2" y2="237.8" stroke="#4a4a4a" stroke-width="1"/>
<text transform="translate(404.2 245.9) scale(0.943 1)" font-size="9.33" text-anchor="middle" fill="#4d4d4d" font-weight="normal">2020</text>
<line x1="429.2" x2="429.2" y1="235.2" y2="237.8" stroke="#4a4a4a" stroke-width="1"/>
<text transform="translate(429.2 245.9) scale(0.943 1)" font-size="9.33" text-anchor="middle" fill="#4d4d4d" font-weight="normal">2030</text>
<line x1="454.1" x2="454.1" y1="235.2" y2="237.8" stroke="#4a4a4a" stroke-width="1"/>
<text transform="translate(454.1 245.9) scale(0.943 1)" font-size="9.33" text-anchor="middle" fill="#4d4d4d" font-weight="normal">2040</text>
<line x1="479.1" x2="479.1" y1="235.2" y2="237.8" stroke="#4a4a4a" stroke-width="1"/>
<text transform="translate(479.1 245.9) scale(0.943 1)" font-size="9.33" text-anchor="middle" fill="#4d4d4d" font-weight="normal">2050</text>
<line x1="504.1" x2="504.1" y1="235.2" y2="237.8" stroke="#4a4a4a" stroke-width="1"/>
<text transform="translate(504.1 245.9) scale(0.943 1)" font-size="9.33" text-anchor="middle" fill="#4d4d4d" font-weight="normal">2060</text>
<text transform="translate(267.1 255.8) scale(0.943 1)" font-size="10.07" text-anchor="middle" fill="#1a1a1a" font-weight="normal">Year</text>
<text transform="translate(7.8 143.5) rotate(-90) scale(0.943 1)" font-size="9.54" text-anchor="middle" fill="#1a1a1a" font-weight="normal">Prevalence per 1,000</text>
<rect x="172.4" y="4.5" width="12" height="12" fill="#0d96d6" fill-opacity="0.2" stroke="#0d96d6" stroke-opacity="0.75" stroke-width="1" rx="0.8"/>
<line x1="172.4" x2="184.4" y1="10.5" y2="10.5" stroke="#0d96d6" stroke-width="1.3"/>
<text transform="translate(188.9 14.1) scale(0.943 1)" font-size="9.38" text-anchor="start" fill="#1a1a1a" font-weight="normal">Constant incidence</text>
<rect x="269.2" y="4.5" width="12" height="12" fill="#e5832f" fill-opacity="0.2" stroke="#e5832f" stroke-width="1" stroke-dasharray="1.2 1.15"/>
<line x1="269.6" x2="281.2" y1="10.5" y2="10.5" stroke="#e5832f" stroke-width="1.4" stroke-dasharray="4.2 3.6"/>
<text transform="translate(285.1 14.1) scale(0.943 1)" font-size="9.51" text-anchor="start" fill="#1a1a1a" font-weight="normal">Increasing incidence</text>
<text transform="translate(0.2 10.6) scale(0.943 1)" font-size="15.69" text-anchor="start" fill="#000" font-weight="bold">A</text>
<text transform="translate(86.5 305.7) scale(0.943 1)" font-size="9.43" text-anchor="middle" fill="#1a1a1a" font-weight="normal">Race and ethnicity:</text>
<text transform="translate(90.7 314.9) scale(0.943 1)" font-size="9.43" text-anchor="middle" fill="#1a1a1a" font-weight="normal">Hispanic</text>
<text transform="translate(207.4 305.7) scale(0.943 1)" font-size="9.43" text-anchor="middle" fill="#1a1a1a" font-weight="normal">Race and ethnicity:</text>
<text transform="translate(211.6 314.9) scale(0.943 1)" font-size="9.43" text-anchor="middle" fill="#1a1a1a" font-weight="normal">NHB</text>
<text transform="translate(328.3 305.7) scale(0.943 1)" font-size="9.43" text-anchor="middle" fill="#1a1a1a" font-weight="normal">Race and ethnicity:</text>
<text transform="translate(332.5 314.9) scale(0.943 1)" font-size="9.43" text-anchor="middle" fill="#1a1a1a" font-weight="normal">NHW</text>
<text transform="translate(449.2 305.7) scale(0.943 1)" font-size="9.43" text-anchor="middle" fill="#1a1a1a" font-weight="normal">Race and ethnicity:</text>
<text transform="translate(453.4 314.9) scale(0.943 1)" font-size="9.43" text-anchor="middle" fill="#1a1a1a" font-weight="normal">Other</text>
<line x1="29.7" x2="146.7" y1="404.5" y2="404.5" stroke="#d0d0d0" stroke-width="1.15"/>
<line x1="29.7" x2="146.7" y1="386.2" y2="386.2" stroke="#d0d0d0" stroke-width="1.15"/>
<line x1="29.7" x2="146.7" y1="367.9" y2="367.9" stroke="#d0d0d0" stroke-width="1.15"/>
<line x1="29.7" x2="146.7" y1="349.7" y2="349.7" stroke="#d0d0d0" stroke-width="1.15"/>
<line x1="29.7" x2="146.7" y1="331.4" y2="331.4" stroke="#d0d0d0" stroke-width="1.15"/>
<path d="M34.9,392.8 L35.1,391.8 L35.6,390.9 L36.3,390.1 L37.3,389.7 L38.4,389.6 L40.8,389.6 L43.3,389.6 L45.7,389.6 L48.2,389.6 L50.6,389.6 L53.1,389.5 L55.5,389.4 L58,389.3 L60.4,389.1 L62.9,388.9 L65.3,388.7 L67.8,388.4 L70.2,388.1 L72.7,387.7 L75.2,387.3 L77.6,386.9 L80.1,386.4 L82.5,385.8 L85,385.2 L87.4,384.5 L89.9,383.7 L92.3,382.9 L94.8,382.1 L97.2,381.3 L99.7,380.4 L102.1,379.5 L104.6,378.5 L107,377.6 L109.5,376.6 L111.9,375.6 L114.4,374.7 L116.9,373.7 L119.3,372.8 L121.8,371.9 L124.2,370.9 L126.7,370 L129.1,369.1 L131.6,368.2 L134,367.3 L136.5,366.5 L138.9,365.7 L141.4,364.9 L141.4,389.5 L138.9,389.7 L136.5,389.8 L134,390 L131.6,390.1 L129.1,390.3 L126.7,390.4 L124.2,390.6 L121.8,390.7 L119.3,390.8 L116.9,391 L114.4,391.1 L111.9,391.2 L109.5,391.4 L107,391.5 L104.6,391.6 L102.1,391.8 L99.7,391.9 L97.2,392 L94.8,392.1 L92.3,392.2 L89.9,392.4 L87.4,392.5 L85,392.6 L82.5,392.7 L80.1,392.8 L77.6,392.9 L75.2,392.9 L72.7,393 L70.2,393.1 L67.8,393.2 L65.3,393.2 L62.9,393.3 L60.4,393.4 L58,393.4 L55.5,393.6 L53.1,393.7 L50.6,393.9 L48.2,394.2 L45.7,394.6 L43.3,394.9 L40.8,395.3 L38.4,395.7 L37.3,395.7 L36.3,395.4 L35.6,394.8 L35.1,393.9 L34.9,392.8Z" fill="#e5832f" fill-opacity="0.17" stroke="none"/>
<path d="M34.9,392.8 L35.1,391.8 L35.6,390.9 L36.3,390.1 L37.3,389.7 L38.4,389.5 L40.8,389.6 L43.3,389.6 L45.7,389.6 L48.2,389.6 L50.6,389.5 L53.1,389.4 L55.5,389.3 L58,389.1 L60.4,388.9 L62.9,388.8 L65.3,388.6 L67.8,388.5 L70.2,388.3 L72.7,388.2 L75.2,388 L77.6,387.9 L80.1,387.8 L82.5,387.7 L85,387.6 L87.4,387.5 L89.9,387.4 L92.3,387.3 L94.8,387.2 L97.2,387 L99.7,386.9 L102.1,386.7 L104.6,386.6 L107,386.4 L109.5,386.2 L111.9,386.1 L114.4,385.9 L116.9,385.8 L119.3,385.6 L121.8,385.5 L124.2,385.3 L126.7,385.2 L129.1,385.1 L131.6,384.9 L134,384.8 L136.5,384.7 L138.9,384.5 L141.4,384.4 L141.4,390.2 L138.9,390.3 L136.5,390.4 L134,390.5 L131.6,390.5 L129.1,390.6 L126.7,390.7 L124.2,390.8 L121.8,390.9 L119.3,391 L116.9,391.1 L114.4,391.2 L111.9,391.3 L109.5,391.4 L107,391.5 L104.6,391.6 L102.1,391.7 L99.7,391.8 L97.2,391.9 L94.8,392 L92.3,392.1 L89.9,392.1 L87.4,392.2 L85,392.2 L82.5,392.2 L80.1,392.2 L77.6,392.3 L75.2,392.4 L72.7,392.5 L70.2,392.6 L67.8,392.7 L65.3,392.8 L62.9,392.9 L60.4,393 L58,393.2 L55.5,393.3 L53.1,393.5 L50.6,393.8 L48.2,394.1 L45.7,394.4 L43.3,394.7 L40.8,395.1 L38.4,395.5 L37.3,395.6 L36.3,395.3 L35.6,394.7 L35.1,393.8 L34.9,392.8Z" fill="#0d96d6" fill-opacity="0.2" stroke="none"/>
<path d="M141.4,390.2 L138.9,390.3 L136.5,390.4 L134,390.5 L131.6,390.5 L129.1,390.6 L126.7,390.7 L124.2,390.8 L121.8,390.9 L119.3,391 L116.9,391.1 L114.4,391.2 L111.9,391.3 L109.5,391.4 L107,391.5 L104.6,391.6 L102.1,391.7 L99.7,391.8 L97.2,391.9 L94.8,392 L92.3,392.1 L89.9,392.1 L87.4,392.2 L85,392.2 L82.5,392.2 L80.1,392.2 L77.6,392.3 L75.2,392.4 L72.7,392.5 L70.2,392.6 L67.8,392.7 L65.3,392.8 L62.9,392.9 L60.4,393 L58,393.2 L55.5,393.3 L53.1,393.5 L50.6,393.8 L48.2,394.1 L45.7,394.4 L43.3,394.7 L40.8,395.1 L38.4,395.5 L37.3,395.6 L36.3,395.3 L35.6,394.7 L35.1,393.8 L34.9,392.8 L35.1,391.8 L35.6,390.9 L36.3,390.1 L37.3,389.7 L38.4,389.5 L40.8,389.6 L43.3,389.6 L45.7,389.6 L48.2,389.6 L50.6,389.5 L53.1,389.4 L55.5,389.3 L58,389.1 L60.4,388.9 L62.9,388.8 L65.3,388.6 L67.8,388.5 L70.2,388.3 L72.7,388.2 L75.2,388 L77.6,387.9 L80.1,387.8 L82.5,387.7 L85,387.6 L87.4,387.5 L89.9,387.4 L92.3,387.3 L94.8,387.2 L97.2,387 L99.7,386.9 L102.1,386.7 L104.6,386.6 L107,386.4 L109.5,386.2 L111.9,386.1 L114.4,385.9 L116.9,385.8 L119.3,385.6 L121.8,385.5 L124.2,385.3 L126.7,385.2 L129.1,385.1 L131.6,384.9 L134,384.8 L136.5,384.7 L138.9,384.5 L141.4,384.4" fill="none" stroke="#0d96d6" stroke-width="0.6" stroke-opacity="0.8"/>
<path d="M141.4,389.5 L138.9,389.7 L136.5,389.8 L134,390 L131.6,390.1 L129.1,390.3 L126.7,390.4 L124.2,390.6 L121.8,390.7 L119.3,390.8 L116.9,391 L114.4,391.1 L111.9,391.2 L109.5,391.4 L107,391.5 L104.6,391.6 L102.1,391.8 L99.7,391.9 L97.2,392 L94.8,392.1 L92.3,392.2 L89.9,392.4 L87.4,392.5 L85,392.6 L82.5,392.7 L80.1,392.8 L77.6,392.9 L75.2,392.9 L72.7,393 L70.2,393.1 L67.8,393.2 L65.3,393.2 L62.9,393.3 L60.4,393.4 L58,393.4 L55.5,393.6 L53.1,393.7 L50.6,393.9 L48.2,394.2 L45.7,394.6 L43.3,394.9 L40.8,395.3 L38.4,395.7 L37.3,395.7 L36.3,395.4 L35.6,394.8 L35.1,393.9 L34.9,392.8 L35.1,391.8 L35.6,390.9 L36.3,390.1 L37.3,389.7 L38.4,389.6 L40.8,389.6 L43.3,389.6 L45.7,389.6 L48.2,389.6 L50.6,389.6 L53.1,389.5 L55.5,389.4 L58,389.3 L60.4,389.1 L62.9,388.9 L65.3,388.7 L67.8,388.4 L70.2,388.1 L72.7,387.7 L75.2,387.3 L77.6,386.9 L80.1,386.4 L82.5,385.8 L85,385.2 L87.4,384.5 L89.9,383.7 L92.3,382.9 L94.8,382.1 L97.2,381.3 L99.7,380.4 L102.1,379.5 L104.6,378.5 L107,377.6 L109.5,376.6 L111.9,375.6 L114.4,374.7 L116.9,373.7 L119.3,372.8 L121.8,371.9 L124.2,370.9 L126.7,370 L129.1,369.1 L131.6,368.2 L134,367.3 L136.5,366.5 L138.9,365.7 L141.4,364.9" fill="none" stroke="#e5832f" stroke-width="0.9" stroke-dasharray="1.2 1.6"/>
<path d="M35.1,392.8 L35.6,392.8 L36.3,392.7 L37.3,392.6 L38.4,392.5 L40.8,392.4 L43.3,392.2 L45.7,392 L48.2,391.8 L50.6,391.6 L53.1,391.5 L55.5,391.3 L58,391.1 L60.4,391 L62.9,390.9 L65.3,390.7 L67.8,390.6 L70.2,390.4 L72.7,390.3 L75.2,390.2 L77.6,390.1 L80.1,390 L82.5,389.9 L85,389.9 L87.4,389.8 L89.9,389.8 L92.3,389.7 L94.8,389.6 L97.2,389.5 L99.7,389.4 L102.1,389.2 L104.6,389.1 L107,388.9 L109.5,388.8 L111.9,388.7 L114.4,388.5 L116.9,388.4 L119.3,388.3 L121.8,388.2 L124.2,388.1 L126.7,388 L129.1,387.8 L131.6,387.7 L134,387.6 L136.5,387.5 L138.9,387.4 L141.4,387.3" fill="none" stroke="#0d96d6" stroke-width="2.1"/>
<path d="M35.1,392.8 L35.6,392.8 L36.3,392.7 L37.3,392.6 L38.4,392.5 L40.8,392.3 L43.3,392.1 L45.7,391.9 L48.2,391.7 L50.6,391.5 L53.1,391.3 L55.5,391.1 L58,391 L60.4,390.8 L62.9,390.7 L65.3,390.5 L67.8,390.4 L70.2,390.2 L72.7,390.1 L75.2,389.9 L77.6,389.7 L80.1,389.6 L82.5,389.4 L85,389.2 L87.4,388.9 L89.9,388.7 L92.3,388.4 L94.8,388.1 L97.2,387.7 L99.7,387.4 L102.1,387 L104.6,386.5 L107,386.1 L109.5,385.7 L111.9,385.2 L114.4,384.8 L116.9,384.4 L119.3,384 L121.8,383.6 L124.2,383.2 L126.7,382.8 L129.1,382.4 L131.6,382 L134,381.7 L136.5,381.3 L138.9,380.9 L141.4,380.6" fill="none" stroke="#e5832f" stroke-width="1.9" stroke-dasharray="3.9 3.4"/>
<line x1="150.6" x2="267.6" y1="404.5" y2="404.5" stroke="#d0d0d0" stroke-width="1.15"/>
<line x1="150.6" x2="267.6" y1="386.2" y2="386.2" stroke="#d0d0d0" stroke-width="1.15"/>
<line x1="150.6" x2="267.6" y1="367.9" y2="367.9" stroke="#d0d0d0" stroke-width="1.15"/>
<line x1="150.6" x2="267.6" y1="349.7" y2="349.7" stroke="#d0d0d0" stroke-width="1.15"/>
<line x1="150.6" x2="267.6" y1="331.4" y2="331.4" stroke="#d0d0d0" stroke-width="1.15"/>
<path d="M155.8,394.3 L156,393.2 L156.5,392.4 L157.2,391.7 L158.2,391.3 L159.3,391.3 L161.7,391.4 L164.2,391.6 L166.6,391.8 L169.1,391.9 L171.5,392 L174,392 L176.4,392 L178.9,391.9 L181.3,391.8 L183.8,391.7 L186.2,391.5 L188.7,391.2 L191.1,390.9 L193.6,390.5 L196.1,390.1 L198.5,389.5 L201,388.9 L203.4,388.1 L205.9,387.3 L208.3,386.4 L210.8,385.4 L213.2,384.5 L215.7,383.6 L218.1,382.7 L220.6,381.8 L223,380.8 L225.5,379.7 L227.9,378.4 L230.4,377.1 L232.8,375.6 L235.3,374.1 L237.8,372.6 L240.2,371.1 L242.7,369.6 L245.1,368 L247.6,366.4 L250,364.5 L252.5,362.5 L254.9,360.2 L257.4,357.7 L259.8,355 L262.3,352.2 L262.3,386.9 L259.8,387.2 L257.4,387.5 L254.9,387.8 L252.5,388.2 L250,388.5 L247.6,388.8 L245.1,389.1 L242.7,389.4 L240.2,389.7 L237.8,390 L235.3,390.3 L232.8,390.7 L230.4,391.1 L227.9,391.5 L225.5,391.9 L223,392.4 L220.6,392.9 L218.1,393.3 L215.7,393.8 L213.2,394.1 L210.8,394.5 L208.3,394.7 L205.9,395 L203.4,395.2 L201,395.4 L198.5,395.6 L196.1,395.7 L193.6,395.9 L191.1,396 L188.7,396 L186.2,396.1 L183.8,396.1 L181.3,396.1 L178.9,396.1 L176.4,396.1 L174,396.2 L171.5,396.3 L169.1,396.5 L166.6,396.6 L164.2,396.8 L161.7,397 L159.3,397.3 L158.2,397.2 L157.2,396.8 L156.5,396.2 L156,395.3 L155.8,394.3Z" fill="#e5832f" fill-opacity="0.17" stroke="none"/>
<path d="M155.8,394.3 L156,393.3 L156.5,392.4 L157.2,391.7 L158.2,391.3 L159.3,391.3 L161.7,391.5 L164.2,391.7 L166.6,391.9 L169.1,392 L171.5,392.1 L174,392.2 L176.4,392.2 L178.9,392.2 L181.3,392.2 L183.8,392.1 L186.2,392.1 L188.7,392.1 L191.1,392 L193.6,392 L196.1,392 L198.5,392 L201,392 L203.4,391.9 L205.9,391.9 L208.3,391.9 L210.8,391.9 L213.2,391.9 L215.7,391.8 L218.1,391.8 L220.6,391.8 L223,391.7 L225.5,391.7 L227.9,391.6 L230.4,391.6 L232.8,391.6 L235.3,391.5 L237.8,391.5 L240.2,391.4 L242.7,391.4 L245.1,391.3 L247.6,391.3 L250,391.2 L252.5,391.2 L254.9,391.1 L257.4,391.1 L259.8,391 L262.3,391 L262.3,396.5 L259.8,396.5 L257.4,396.5 L254.9,396.5 L252.5,396.6 L250,396.6 L247.6,396.6 L245.1,396.6 L242.7,396.7 L240.2,396.7 L237.8,396.7 L235.3,396.7 L232.8,396.7 L230.4,396.7 L227.9,396.7 L225.5,396.7 L223,396.7 L220.6,396.7 L218.1,396.7 L215.7,396.7 L213.2,396.7 L210.8,396.7 L208.3,396.6 L205.9,396.6 L203.4,396.6 L201,396.6 L198.5,396.5 L196.1,396.5 L193.6,396.5 L191.1,396.5 L188.7,396.5 L186.2,396.4 L183.8,396.4 L181.3,396.4 L178.9,396.3 L176.4,396.3 L174,396.3 L171.5,396.4 L169.1,396.5 L166.6,396.7 L164.2,396.8 L161.7,397 L159.3,397.3 L158.2,397.2 L157.2,396.8 L156.5,396.2 L156,395.3 L155.8,394.3Z" fill="#0d96d6" fill-opacity="0.2" stroke="none"/>
<path d="M262.3,396.5 L259.8,396.5 L257.4,396.5 L254.9,396.5 L252.5,396.6 L250,396.6 L247.6,396.6 L245.1,396.6 L242.7,396.7 L240.2,396.7 L237.8,396.7 L235.3,396.7 L232.8,396.7 L230.4,396.7 L227.9,396.7 L225.5,396.7 L223,396.7 L220.6,396.7 L218.1,396.7 L215.7,396.7 L213.2,396.7 L210.8,396.7 L208.3,396.6 L205.9,396.6 L203.4,396.6 L201,396.6 L198.5,396.5 L196.1,396.5 L193.6,396.5 L191.1,396.5 L188.7,396.5 L186.2,396.4 L183.8,396.4 L181.3,396.4 L178.9,396.3 L176.4,396.3 L174,396.3 L171.5,396.4 L169.1,396.5 L166.6,396.7 L164.2,396.8 L161.7,397 L159.3,397.3 L158.2,397.2 L157.2,396.8 L156.5,396.2 L156,395.3 L155.8,394.3 L156,393.3 L156.5,392.4 L157.2,391.7 L158.2,391.3 L159.3,391.3 L161.7,391.5 L164.2,391.7 L166.6,391.9 L169.1,392 L171.5,392.1 L174,392.2 L176.4,392.2 L178.9,392.2 L181.3,392.2 L183.8,392.1 L186.2,392.1 L188.7,392.1 L191.1,392 L193.6,392 L196.1,392 L198.5,392 L201,392 L203.4,391.9 L205.9,391.9 L208.3,391.9 L210.8,391.9 L213.2,391.9 L215.7,391.8 L218.1,391.8 L220.6,391.8 L223,391.7 L225.5,391.7 L227.9,391.6 L230.4,391.6 L232.8,391.6 L235.3,391.5 L237.8,391.5 L240.2,391.4 L242.7,391.4 L245.1,391.3 L247.6,391.3 L250,391.2 L252.5,391.2 L254.9,391.1 L257.4,391.1 L259.8,391 L262.3,391" fill="none" stroke="#0d96d6" stroke-width="0.6" stroke-opacity="0.8"/>
<path d="M262.3,386.9 L259.8,387.2 L257.4,387.5 L254.9,387.8 L252.5,388.2 L250,388.5 L247.6,388.8 L245.1,389.1 L242.7,389.4 L240.2,389.7 L237.8,390 L235.3,390.3 L232.8,390.7 L230.4,391.1 L227.9,391.5 L225.5,391.9 L223,392.4 L220.6,392.9 L218.1,393.3 L215.7,393.8 L213.2,394.1 L210.8,394.5 L208.3,394.7 L205.9,395 L203.4,395.2 L201,395.4 L198.5,395.6 L196.1,395.7 L193.6,395.9 L191.1,396 L188.7,396 L186.2,396.1 L183.8,396.1 L181.3,396.1 L178.9,396.1 L176.4,396.1 L174,396.2 L171.5,396.3 L169.1,396.5 L166.6,396.6 L164.2,396.8 L161.7,397 L159.3,397.3 L158.2,397.2 L157.2,396.8 L156.5,396.2 L156,395.3 L155.8,394.3 L156,393.2 L156.5,392.4 L157.2,391.7 L158.2,391.3 L159.3,391.3 L161.7,391.4 L164.2,391.6 L166.6,391.8 L169.1,391.9 L171.5,392 L174,392 L176.4,392 L178.9,391.9 L181.3,391.8 L183.8,391.7 L186.2,391.5 L188.7,391.2 L191.1,390.9 L193.6,390.5 L196.1,390.1 L198.5,389.5 L201,388.9 L203.4,388.1 L205.9,387.3 L208.3,386.4 L210.8,385.4 L213.2,384.5 L215.7,383.6 L218.1,382.7 L220.6,381.8 L223,380.8 L225.5,379.7 L227.9,378.4 L230.4,377.1 L232.8,375.6 L235.3,374.1 L237.8,372.6 L240.2,371.1 L242.7,369.6 L245.1,368 L247.6,366.4 L250,364.5 L252.5,362.5 L254.9,360.2 L257.4,357.7 L259.8,355 L262.3,352.2" fill="none" stroke="#e5832f" stroke-width="0.9" stroke-dasharray="1.2 1.6"/>
<path d="M156,394.3 L156.5,394.3 L157.2,394.3 L158.2,394.3 L159.3,394.3 L161.7,394.3 L164.2,394.3 L166.6,394.3 L169.1,394.3 L171.5,394.3 L174,394.3 L176.4,394.3 L178.9,394.3 L181.3,394.3 L183.8,394.3 L186.2,394.3 L188.7,394.3 L191.1,394.3 L193.6,394.3 L196.1,394.3 L198.5,394.3 L201,394.3 L203.4,394.3 L205.9,394.3 L208.3,394.3 L210.8,394.3 L213.2,394.3 L215.7,394.3 L218.1,394.3 L220.6,394.2 L223,394.2 L225.5,394.2 L227.9,394.2 L230.4,394.2 L232.8,394.1 L235.3,394.1 L237.8,394.1 L240.2,394 L242.7,394 L245.1,394 L247.6,393.9 L250,393.9 L252.5,393.9 L254.9,393.8 L257.4,393.8 L259.8,393.8 L262.3,393.7" fill="none" stroke="#0d96d6" stroke-width="2.1"/>
<path d="M156,394.3 L156.5,394.3 L157.2,394.3 L158.2,394.4 L159.3,394.4 L161.7,394.5 L164.2,394.6 L166.6,394.6 L169.1,394.7 L171.5,394.7 L174,394.7 L176.4,394.6 L178.9,394.6 L181.3,394.5 L183.8,394.3 L186.2,394.2 L188.7,393.9 L191.1,393.6 L193.6,393.3 L196.1,392.9 L198.5,392.4 L201,392 L203.4,391.5 L205.9,391 L208.3,390.5 L210.8,390 L213.2,389.5 L215.7,389 L218.1,388.5 L220.6,387.9 L223,387.4 L225.5,386.7 L227.9,386 L230.4,385.1 L232.8,384.2 L235.3,383.3 L237.8,382.5 L240.2,381.8 L242.7,381.2 L245.1,380.5 L247.6,379.9 L250,379.2 L252.5,378.4 L254.9,377.5 L257.4,376.6 L259.8,375.6 L262.3,374.6" fill="none" stroke="#e5832f" stroke-width="1.9" stroke-dasharray="3.9 3.4"/>
<line x1="271.5" x2="388.5" y1="404.5" y2="404.5" stroke="#d0d0d0" stroke-width="1.15"/>
<line x1="271.5" x2="388.5" y1="386.2" y2="386.2" stroke="#d0d0d0" stroke-width="1.15"/>
<line x1="271.5" x2="388.5" y1="367.9" y2="367.9" stroke="#d0d0d0" stroke-width="1.15"/>
<line x1="271.5" x2="388.5" y1="349.7" y2="349.7" stroke="#d0d0d0" stroke-width="1.15"/>
<line x1="271.5" x2="388.5" y1="331.4" y2="331.4" stroke="#d0d0d0" stroke-width="1.15"/>
<path d="M276.7,359.9 L276.9,357.7 L277.4,355.7 L278.1,354.3 L279.1,353.6 L280.2,353.6 L282.6,354.2 L285.1,354.9 L287.5,355.4 L290,355.9 L292.4,356.2 L294.9,356.4 L297.3,356.5 L299.8,356.5 L302.2,356.4 L304.7,356.2 L307.1,356 L309.6,355.8 L312,355.5 L314.5,355.3 L317,355 L319.4,354.7 L321.9,354.3 L324.3,354 L326.8,353.6 L329.2,353.1 L331.7,352.6 L334.1,352.1 L336.6,351.5 L339,351 L341.5,350.4 L343.9,349.8 L346.4,349.3 L348.8,348.9 L351.3,348.5 L353.7,348.2 L356.2,347.8 L358.7,347.4 L361.1,347 L363.6,346.6 L366,346.2 L368.5,345.7 L370.9,345.2 L373.4,344.7 L375.8,344.2 L378.3,343.7 L380.7,343.1 L383.2,342.5 L383.2,364.4 L380.7,364.3 L378.3,364.2 L375.8,364.1 L373.4,364.1 L370.9,364 L368.5,363.9 L366,363.8 L363.6,363.8 L361.1,363.7 L358.7,363.7 L356.2,363.6 L353.7,363.6 L351.3,363.5 L348.8,363.5 L346.4,363.4 L343.9,363.4 L341.5,363.3 L339,363.3 L336.6,363.3 L334.1,363.3 L331.7,363.2 L329.2,363.2 L326.8,363.2 L324.3,363.2 L321.9,363.2 L319.4,363.3 L317,363.3 L314.5,363.4 L312,363.5 L309.6,363.5 L307.1,363.6 L304.7,363.7 L302.2,363.9 L299.8,364 L297.3,364.1 L294.9,364.3 L292.4,364.5 L290,364.8 L287.5,365.1 L285.1,365.5 L282.6,365.9 L280.2,366.3 L279.1,366.2 L278.1,365.4 L277.4,363.9 L276.9,362.1 L276.7,359.9Z" fill="#e5832f" fill-opacity="0.17" stroke="none"/>
<path d="M276.7,359.9 L276.9,357.8 L277.4,355.9 L278.1,354.6 L279.1,353.9 L280.2,353.9 L282.6,354.6 L285.1,355.2 L287.5,355.8 L290,356.3 L292.4,356.6 L294.9,356.9 L297.3,357.1 L299.8,357.2 L302.2,357.3 L304.7,357.3 L307.1,357.3 L309.6,357.4 L312,357.4 L314.5,357.4 L317,357.5 L319.4,357.5 L321.9,357.6 L324.3,357.7 L326.8,357.8 L329.2,357.9 L331.7,358.1 L334.1,358.3 L336.6,358.6 L339,358.8 L341.5,359.1 L343.9,359.3 L346.4,359.5 L348.8,359.8 L351.3,360 L353.7,360.2 L356.2,360.4 L358.7,360.6 L361.1,360.8 L363.6,361 L366,361.2 L368.5,361.4 L370.9,361.6 L373.4,361.8 L375.8,362 L378.3,362.2 L380.7,362.4 L383.2,362.6 L383.2,369.9 L380.7,369.7 L378.3,369.6 L375.8,369.4 L373.4,369.2 L370.9,369 L368.5,368.8 L366,368.6 L363.6,368.4 L361.1,368.2 L358.7,368 L356.2,367.8 L353.7,367.6 L351.3,367.3 L348.8,367.1 L346.4,366.9 L343.9,366.6 L341.5,366.4 L339,366.1 L336.6,365.9 L334.1,365.7 L331.7,365.4 L329.2,365.2 L326.8,365.1 L324.3,365 L321.9,364.9 L319.4,364.8 L317,364.7 L314.5,364.6 L312,364.5 L309.6,364.5 L307.1,364.4 L304.7,364.4 L302.2,364.3 L299.8,364.2 L297.3,364.2 L294.9,364.2 L292.4,364.3 L290,364.6 L287.5,364.9 L285.1,365.3 L282.6,365.7 L280.2,366.2 L279.1,366.1 L278.1,365.3 L277.4,363.9 L276.9,362.1 L276.7,359.9Z" fill="#0d96d6" fill-opacity="0.2" stroke="none"/>
<path d="M383.2,369.9 L380.7,369.7 L378.3,369.6 L375.8,369.4 L373.4,369.2 L370.9,369 L368.5,368.8 L366,368.6 L363.6,368.4 L361.1,368.2 L358.7,368 L356.2,367.8 L353.7,367.6 L351.3,367.3 L348.8,367.1 L346.4,366.9 L343.9,366.6 L341.5,366.4 L339,366.1 L336.6,365.9 L334.1,365.7 L331.7,365.4 L329.2,365.2 L326.8,365.1 L324.3,365 L321.9,364.9 L319.4,364.8 L317,364.7 L314.5,364.6 L312,364.5 L309.6,364.5 L307.1,364.4 L304.7,364.4 L302.2,364.3 L299.8,364.2 L297.3,364.2 L294.9,364.2 L292.4,364.3 L290,364.6 L287.5,364.9 L285.1,365.3 L282.6,365.7 L280.2,366.2 L279.1,366.1 L278.1,365.3 L277.4,363.9 L276.9,362.1 L276.7,359.9 L276.9,357.8 L277.4,355.9 L278.1,354.6 L279.1,353.9 L280.2,353.9 L282.6,354.6 L285.1,355.2 L287.5,355.8 L290,356.3 L292.4,356.6 L294.9,356.9 L297.3,357.1 L299.8,357.2 L302.2,357.3 L304.7,357.3 L307.1,357.3 L309.6,357.4 L312,357.4 L314.5,357.4 L317,357.5 L319.4,357.5 L321.9,357.6 L324.3,357.7 L326.8,357.8 L329.2,357.9 L331.7,358.1 L334.1,358.3 L336.6,358.6 L339,358.8 L341.5,359.1 L343.9,359.3 L346.4,359.5 L348.8,359.8 L351.3,360 L353.7,360.2 L356.2,360.4 L358.7,360.6 L361.1,360.8 L363.6,361 L366,361.2 L368.5,361.4 L370.9,361.6 L373.4,361.8 L375.8,362 L378.3,362.2 L380.7,362.4 L383.2,362.6" fill="none" stroke="#0d96d6" stroke-width="0.6" stroke-opacity="0.8"/>
<path d="M383.2,364.4 L380.7,364.3 L378.3,364.2 L375.8,364.1 L373.4,364.1 L370.9,364 L368.5,363.9 L366,363.8 L363.6,363.8 L361.1,363.7 L358.7,363.7 L356.2,363.6 L353.7,363.6 L351.3,363.5 L348.8,363.5 L346.4,363.4 L343.9,363.4 L341.5,363.3 L339,363.3 L336.6,363.3 L334.1,363.3 L331.7,363.2 L329.2,363.2 L326.8,363.2 L324.3,363.2 L321.9,363.2 L319.4,363.3 L317,363.3 L314.5,363.4 L312,363.5 L309.6,363.5 L307.1,363.6 L304.7,363.7 L302.2,363.9 L299.8,364 L297.3,364.1 L294.9,364.3 L292.4,364.5 L290,364.8 L287.5,365.1 L285.1,365.5 L282.6,365.9 L280.2,366.3 L279.1,366.2 L278.1,365.4 L277.4,363.9 L276.9,362.1 L276.7,359.9 L276.9,357.7 L277.4,355.7 L278.1,354.3 L279.1,353.6 L280.2,353.6 L282.6,354.2 L285.1,354.9 L287.5,355.4 L290,355.9 L292.4,356.2 L294.9,356.4 L297.3,356.5 L299.8,356.5 L302.2,356.4 L304.7,356.2 L307.1,356 L309.6,355.8 L312,355.5 L314.5,355.3 L317,355 L319.4,354.7 L321.9,354.3 L324.3,354 L326.8,353.6 L329.2,353.1 L331.7,352.6 L334.1,352.1 L336.6,351.5 L339,351 L341.5,350.4 L343.9,349.8 L346.4,349.3 L348.8,348.9 L351.3,348.5 L353.7,348.2 L356.2,347.8 L358.7,347.4 L361.1,347 L363.6,346.6 L366,346.2 L368.5,345.7 L370.9,345.2 L373.4,344.7 L375.8,344.2 L378.3,343.7 L380.7,343.1 L383.2,342.5" fill="none" stroke="#e5832f" stroke-width="0.9" stroke-dasharray="1.2 1.6"/>
<path d="M276.9,359.9 L277.4,359.9 L278.1,360 L279.1,360 L280.2,360 L282.6,360.1 L285.1,360.2 L287.5,360.3 L290,360.4 L292.4,360.5 L294.9,360.6 L297.3,360.7 L299.8,360.7 L302.2,360.8 L304.7,360.8 L307.1,360.9 L309.6,360.9 L312,361 L314.5,361 L317,361.1 L319.4,361.1 L321.9,361.2 L324.3,361.3 L326.8,361.4 L329.2,361.6 L331.7,361.8 L334.1,362 L336.6,362.2 L339,362.5 L341.5,362.7 L343.9,363 L346.4,363.2 L348.8,363.4 L351.3,363.7 L353.7,363.9 L356.2,364.1 L358.7,364.3 L361.1,364.5 L363.6,364.7 L366,364.9 L368.5,365.1 L370.9,365.3 L373.4,365.5 L375.8,365.7 L378.3,365.9 L380.7,366.1 L383.2,366.3" fill="none" stroke="#0d96d6" stroke-width="2.1"/>
<path d="M276.9,359.9 L277.4,359.9 L278.1,360 L279.1,360 L280.2,360.1 L282.6,360.2 L285.1,360.3 L287.5,360.4 L290,360.5 L292.4,360.6 L294.9,360.6 L297.3,360.6 L299.8,360.6 L302.2,360.5 L304.7,360.4 L307.1,360.3 L309.6,360.2 L312,360.1 L314.5,359.9 L317,359.7 L319.4,359.5 L321.9,359.3 L324.3,359.2 L326.8,359 L329.2,358.8 L331.7,358.6 L334.1,358.5 L336.6,358.3 L339,358.2 L341.5,358 L343.9,357.9 L346.4,357.7 L348.8,357.6 L351.3,357.4 L353.7,357.3 L356.2,357.1 L358.7,357 L361.1,356.8 L363.6,356.7 L366,356.5 L368.5,356.4 L370.9,356.2 L373.4,356 L375.8,355.7 L378.3,355.3 L380.7,355 L383.2,354.6" fill="none" stroke="#e5832f" stroke-width="1.9" stroke-dasharray="3.9 3.4"/>
<line x1="392.4" x2="509.4" y1="404.5" y2="404.5" stroke="#d0d0d0" stroke-width="1.15"/>
<line x1="392.4" x2="509.4" y1="386.2" y2="386.2" stroke="#d0d0d0" stroke-width="1.15"/>
<line x1="392.4" x2="509.4" y1="367.9" y2="367.9" stroke="#d0d0d0" stroke-width="1.15"/>
<line x1="392.4" x2="509.4" y1="349.7" y2="349.7" stroke="#d0d0d0" stroke-width="1.15"/>
<line x1="392.4" x2="509.4" y1="331.4" y2="331.4" stroke="#d0d0d0" stroke-width="1.15"/>
<path d="M397.6,402.9 L397.8,402.5 L398.3,402.2 L399,401.9 L400,401.8 L401.1,401.7 L403.5,401.6 L406,401.6 L408.4,401.5 L410.9,401.4 L413.3,401.4 L415.8,401.3 L418.2,401.2 L420.7,401.1 L423.1,401 L425.6,400.9 L428,400.7 L430.5,400.6 L432.9,400.5 L435.4,400.3 L437.9,400.2 L440.3,400 L442.8,399.7 L445.2,399.5 L447.7,399.2 L450.1,398.8 L452.6,398.4 L455,398 L457.5,397.4 L459.9,396.8 L462.4,396.2 L464.8,395.6 L467.3,395 L469.7,394.4 L472.2,393.8 L474.6,393.3 L477.1,392.8 L479.6,392.2 L482,391.7 L484.5,391.1 L486.9,390.5 L489.4,390 L491.8,389.3 L494.3,388.7 L496.7,387.9 L499.2,387.2 L501.6,386.4 L504.1,385.6 L504.1,402.7 L501.6,402.7 L499.2,402.7 L496.7,402.8 L494.3,402.8 L491.8,402.8 L489.4,402.8 L486.9,402.9 L484.5,402.9 L482,402.9 L479.6,403 L477.1,403 L474.6,403 L472.2,403.1 L469.7,403.1 L467.3,403.1 L464.8,403.1 L462.4,403.2 L459.9,403.2 L457.5,403.2 L455,403.3 L452.6,403.3 L450.1,403.3 L447.7,403.4 L445.2,403.4 L442.8,403.4 L440.3,403.4 L437.9,403.5 L435.4,403.5 L432.9,403.5 L430.5,403.6 L428,403.6 L425.6,403.6 L423.1,403.6 L420.7,403.7 L418.2,403.7 L415.8,403.7 L413.3,403.8 L410.9,403.8 L408.4,403.8 L406,403.9 L403.5,403.9 L401.1,403.9 L400,403.9 L399,403.7 L398.3,403.5 L397.8,403.2 L397.6,402.9Z" fill="#e5832f" fill-opacity="0.17" stroke="none"/>
<path d="M397.6,402.9 L397.8,402.5 L398.3,402.2 L399,401.9 L400,401.7 L401.1,401.6 L403.5,401.6 L406,401.6 L408.4,401.5 L410.9,401.5 L413.3,401.4 L415.8,401.4 L418.2,401.4 L420.7,401.3 L423.1,401.3 L425.6,401.2 L428,401.2 L430.5,401.1 L432.9,401.1 L435.4,401 L437.9,401 L440.3,400.9 L442.8,400.8 L445.2,400.8 L447.7,400.7 L450.1,400.7 L452.6,400.6 L455,400.6 L457.5,400.5 L459.9,400.5 L462.4,400.5 L464.8,400.4 L467.3,400.4 L469.7,400.4 L472.2,400.3 L474.6,400.3 L477.1,400.3 L479.6,400.2 L482,400.2 L484.5,400.2 L486.9,400.2 L489.4,400.1 L491.8,400.1 L494.3,400.1 L496.7,400.1 L499.2,400.1 L501.6,400.1 L504.1,400 L504.1,402.4 L501.6,402.4 L499.2,402.4 L496.7,402.4 L494.3,402.4 L491.8,402.5 L489.4,402.5 L486.9,402.5 L484.5,402.5 L482,402.6 L479.6,402.6 L477.1,402.6 L474.6,402.6 L472.2,402.7 L469.7,402.7 L467.3,402.7 L464.8,402.8 L462.4,402.8 L459.9,402.8 L457.5,402.9 L455,402.9 L452.6,403 L450.1,403 L447.7,403.1 L445.2,403.1 L442.8,403.2 L440.3,403.2 L437.9,403.3 L435.4,403.4 L432.9,403.4 L430.5,403.5 L428,403.5 L425.6,403.6 L423.1,403.6 L420.7,403.6 L418.2,403.7 L415.8,403.7 L413.3,403.8 L410.9,403.8 L408.4,403.9 L406,403.9 L403.5,403.9 L401.1,404 L400,403.9 L399,403.8 L398.3,403.5 L397.8,403.2 L397.6,402.9Z" fill="#0d96d6" fill-opacity="0.2" stroke="none"/>
<path d="M504.1,402.4 L501.6,402.4 L499.2,402.4 L496.7,402.4 L494.3,402.4 L491.8,402.5 L489.4,402.5 L486.9,402.5 L484.5,402.5 L482,402.6 L479.6,402.6 L477.1,402.6 L474.6,402.6 L472.2,402.7 L469.7,402.7 L467.3,402.7 L464.8,402.8 L462.4,402.8 L459.9,402.8 L457.5,402.9 L455,402.9 L452.6,403 L450.1,403 L447.7,403.1 L445.2,403.1 L442.8,403.2 L440.3,403.2 L437.9,403.3 L435.4,403.4 L432.9,403.4 L430.5,403.5 L428,403.5 L425.6,403.6 L423.1,403.6 L420.7,403.6 L418.2,403.7 L415.8,403.7 L413.3,403.8 L410.9,403.8 L408.4,403.9 L406,403.9 L403.5,403.9 L401.1,404 L400,403.9 L399,403.8 L398.3,403.5 L397.8,403.2 L397.6,402.9 L397.8,402.5 L398.3,402.2 L399,401.9 L400,401.7 L401.1,401.6 L403.5,401.6 L406,401.6 L408.4,401.5 L410.9,401.5 L413.3,401.4 L415.8,401.4 L418.2,401.4 L420.7,401.3 L423.1,401.3 L425.6,401.2 L428,401.2 L430.5,401.1 L432.9,401.1 L435.4,401 L437.9,401 L440.3,400.9 L442.8,400.8 L445.2,400.8 L447.7,400.7 L450.1,400.7 L452.6,400.6 L455,400.6 L457.5,400.5 L459.9,400.5 L462.4,400.5 L464.8,400.4 L467.3,400.4 L469.7,400.4 L472.2,400.3 L474.6,400.3 L477.1,400.3 L479.6,400.2 L482,400.2 L484.5,400.2 L486.9,400.2 L489.4,400.1 L491.8,400.1 L494.3,400.1 L496.7,400.1 L499.2,400.1 L501.6,400.1 L504.1,400" fill="none" stroke="#0d96d6" stroke-width="0.6" stroke-opacity="0.8"/>
<path d="M504.1,402.7 L501.6,402.7 L499.2,402.7 L496.7,402.8 L494.3,402.8 L491.8,402.8 L489.4,402.8 L486.9,402.9 L484.5,402.9 L482,402.9 L479.6,403 L477.1,403 L474.6,403 L472.2,403.1 L469.7,403.1 L467.3,403.1 L464.8,403.1 L462.4,403.2 L459.9,403.2 L457.5,403.2 L455,403.3 L452.6,403.3 L450.1,403.3 L447.7,403.4 L445.2,403.4 L442.8,403.4 L440.3,403.4 L437.9,403.5 L435.4,403.5 L432.9,403.5 L430.5,403.6 L428,403.6 L425.6,403.6 L423.1,403.6 L420.7,403.7 L418.2,403.7 L415.8,403.7 L413.3,403.8 L410.9,403.8 L408.4,403.8 L406,403.9 L403.5,403.9 L401.1,403.9 L400,403.9 L399,403.7 L398.3,403.5 L397.8,403.2 L397.6,402.9 L397.8,402.5 L398.3,402.2 L399,401.9 L400,401.8 L401.1,401.7 L403.5,401.6 L406,401.6 L408.4,401.5 L410.9,401.4 L413.3,401.4 L415.8,401.3 L418.2,401.2 L420.7,401.1 L423.1,401 L425.6,400.9 L428,400.7 L430.5,400.6 L432.9,400.5 L435.4,400.3 L437.9,400.2 L440.3,400 L442.8,399.7 L445.2,399.5 L447.7,399.2 L450.1,398.8 L452.6,398.4 L455,398 L457.5,397.4 L459.9,396.8 L462.4,396.2 L464.8,395.6 L467.3,395 L469.7,394.4 L472.2,393.8 L474.6,393.3 L477.1,392.8 L479.6,392.2 L482,391.7 L484.5,391.1 L486.9,390.5 L489.4,390 L491.8,389.3 L494.3,388.7 L496.7,387.9 L499.2,387.2 L501.6,386.4 L504.1,385.6" fill="none" stroke="#e5832f" stroke-width="0.9" stroke-dasharray="1.2 1.6"/>
<path d="M397.8,402.9 L398.3,402.8 L399,402.8 L400,402.8 L401.1,402.8 L403.5,402.8 L406,402.7 L408.4,402.7 L410.9,402.7 L413.3,402.6 L415.8,402.6 L418.2,402.5 L420.7,402.5 L423.1,402.4 L425.6,402.4 L428,402.3 L430.5,402.3 L432.9,402.2 L435.4,402.2 L437.9,402.1 L440.3,402.1 L442.8,402 L445.2,402 L447.7,401.9 L450.1,401.8 L452.6,401.8 L455,401.8 L457.5,401.7 L459.9,401.7 L462.4,401.6 L464.8,401.6 L467.3,401.6 L469.7,401.5 L472.2,401.5 L474.6,401.5 L477.1,401.4 L479.6,401.4 L482,401.4 L484.5,401.4 L486.9,401.3 L489.4,401.3 L491.8,401.3 L494.3,401.3 L496.7,401.3 L499.2,401.2 L501.6,401.2 L504.1,401.2" fill="none" stroke="#0d96d6" stroke-width="2.1"/>
<path d="M397.8,402.9 L398.3,402.8 L399,402.8 L400,402.8 L401.1,402.8 L403.5,402.8 L406,402.8 L408.4,402.7 L410.9,402.7 L413.3,402.6 L415.8,402.6 L418.2,402.5 L420.7,402.5 L423.1,402.4 L425.6,402.4 L428,402.3 L430.5,402.2 L432.9,402.1 L435.4,402 L437.9,401.9 L440.3,401.8 L442.8,401.7 L445.2,401.5 L447.7,401.4 L450.1,401.3 L452.6,401.1 L455,401 L457.5,400.9 L459.9,400.8 L462.4,400.6 L464.8,400.5 L467.3,400.4 L469.7,400.3 L472.2,400.2 L474.6,400.1 L477.1,399.9 L479.6,399.8 L482,399.7 L484.5,399.6 L486.9,399.4 L489.4,399.3 L491.8,399.2 L494.3,399.1 L496.7,398.9 L499.2,398.8 L501.6,398.7 L504.1,398.5" fill="none" stroke="#e5832f" stroke-width="1.9" stroke-dasharray="3.9 3.4"/>
<text transform="translate(512.8 363.4) rotate(90) scale(0.943 1)" font-size="9.54" text-anchor="middle" fill="#1a1a1a" font-weight="normal">Type 1 diabetes</text>
<line x1="29.7" x2="29.7" y1="319.3" y2="407.5" stroke="#4a4a4a" stroke-width="1.1"/>
<line x1="27.1" x2="29.7" y1="404.5" y2="404.5" stroke="#4a4a4a" stroke-width="1"/>
<text transform="translate(26.1 407.6) scale(0.943 1)" font-size="9.33" text-anchor="end" fill="#4d4d4d" font-weight="normal">0</text>
<line x1="27.1" x2="29.7" y1="386.2" y2="386.2" stroke="#4a4a4a" stroke-width="1"/>
<text transform="translate(26.1 389.3) scale(0.943 1)" font-size="9.33" text-anchor="end" fill="#4d4d4d" font-weight="normal">50</text>
<line x1="27.1" x2="29.7" y1="367.9" y2="367.9" stroke="#4a4a4a" stroke-width="1"/>
<text transform="translate(26.1 371.1) scale(0.943 1)" font-size="9.33" text-anchor="end" fill="#4d4d4d" font-weight="normal">100</text>
<line x1="27.1" x2="29.7" y1="349.7" y2="349.7" stroke="#4a4a4a" stroke-width="1"/>
<text transform="translate(26.1 352.8) scale(0.943 1)" font-size="9.33" text-anchor="end" fill="#4d4d4d" font-weight="normal">150</text>
<line x1="27.1" x2="29.7" y1="331.4" y2="331.4" stroke="#4a4a4a" stroke-width="1"/>
<text transform="translate(26.1 334.5) scale(0.943 1)" font-size="9.33" text-anchor="end" fill="#4d4d4d" font-weight="normal">200</text>
<line x1="29.7" x2="146.7" y1="497.6" y2="497.6" stroke="#d0d0d0" stroke-width="1.15"/>
<line x1="29.7" x2="146.7" y1="479.3" y2="479.3" stroke="#d0d0d0" stroke-width="1.15"/>
<line x1="29.7" x2="146.7" y1="461.1" y2="461.1" stroke="#d0d0d0" stroke-width="1.15"/>
<line x1="29.7" x2="146.7" y1="442.8" y2="442.8" stroke="#d0d0d0" stroke-width="1.15"/>
<line x1="29.7" x2="146.7" y1="424.5" y2="424.5" stroke="#d0d0d0" stroke-width="1.15"/>
<path d="M34.9,493.6 L35.1,493.2 L35.6,492.9 L36.3,492.7 L37.3,492.5 L38.4,492.4 L40.8,492.3 L43.3,492.3 L45.7,492.2 L48.2,492.1 L50.6,492 L53.1,491.9 L55.5,491.9 L58,491.8 L60.4,491.7 L62.9,491.6 L65.3,491.5 L67.8,491.4 L70.2,491.2 L72.7,491.1 L75.2,490.9 L77.6,490.8 L80.1,490.5 L82.5,490.2 L85,489.8 L87.4,489.3 L89.9,488.7 L92.3,488.1 L94.8,487.4 L97.2,486.6 L99.7,485.8 L102.1,484.9 L104.6,483.9 L107,483 L109.5,482 L111.9,481 L114.4,479.9 L116.9,478.7 L119.3,477.4 L121.8,476 L124.2,474.5 L126.7,472.9 L129.1,471.3 L131.6,469.5 L134,467.7 L136.5,465.9 L138.9,463.9 L141.4,461.9 L141.4,485.6 L138.9,486 L136.5,486.3 L134,486.6 L131.6,486.8 L129.1,487.1 L126.7,487.4 L124.2,487.6 L121.8,487.9 L119.3,488.1 L116.9,488.4 L114.4,488.7 L111.9,489.1 L109.5,489.5 L107,489.9 L104.6,490.2 L102.1,490.6 L99.7,491 L97.2,491.3 L94.8,491.6 L92.3,491.8 L89.9,492 L87.4,492.2 L85,492.3 L82.5,492.4 L80.1,492.4 L77.6,492.5 L75.2,492.6 L72.7,492.6 L70.2,492.7 L67.8,492.8 L65.3,493 L62.9,493.1 L60.4,493.2 L58,493.4 L55.5,493.5 L53.1,493.6 L50.6,493.8 L48.2,493.9 L45.7,494.1 L43.3,494.2 L40.8,494.4 L38.4,494.5 L37.3,494.5 L36.3,494.4 L35.6,494.2 L35.1,493.9 L34.9,493.6Z" fill="#e5832f" fill-opacity="0.17" stroke="none"/>
<path d="M34.9,493.6 L35.1,493.2 L35.6,492.8 L36.3,492.5 L37.3,492.2 L38.4,492.1 L40.8,492 L43.3,491.8 L45.7,491.7 L48.2,491.6 L50.6,491.5 L53.1,491.3 L55.5,491.2 L58,491.1 L60.4,491 L62.9,491 L65.3,490.9 L67.8,490.8 L70.2,490.8 L72.7,490.7 L75.2,490.7 L77.6,490.7 L80.1,490.6 L82.5,490.6 L85,490.5 L87.4,490.5 L89.9,490.5 L92.3,490.4 L94.8,490.4 L97.2,490.4 L99.7,490.3 L102.1,490.3 L104.6,490.3 L107,490.3 L109.5,490.2 L111.9,490.2 L114.4,490.2 L116.9,490.2 L119.3,490.1 L121.8,490.1 L124.2,490.1 L126.7,490 L129.1,490 L131.6,490 L134,490 L136.5,490 L138.9,489.9 L141.4,489.9 L141.4,492.5 L138.9,492.5 L136.5,492.5 L134,492.5 L131.6,492.6 L129.1,492.6 L126.7,492.6 L124.2,492.6 L121.8,492.7 L119.3,492.7 L116.9,492.7 L114.4,492.7 L111.9,492.8 L109.5,492.8 L107,492.8 L104.6,492.8 L102.1,492.9 L99.7,492.9 L97.2,492.9 L94.8,493 L92.3,493 L89.9,493 L87.4,493.1 L85,493.1 L82.5,493.1 L80.1,493.2 L77.6,493.2 L75.2,493.3 L72.7,493.3 L70.2,493.3 L67.8,493.4 L65.3,493.5 L62.9,493.5 L60.4,493.6 L58,493.7 L55.5,493.8 L53.1,493.9 L50.6,494 L48.2,494.1 L45.7,494.3 L43.3,494.4 L40.8,494.5 L38.4,494.7 L37.3,494.7 L36.3,494.5 L35.6,494.3 L35.1,494 L34.9,493.6Z" fill="#0d96d6" fill-opacity="0.2" stroke="none"/>
<path d="M141.4,492.5 L138.9,492.5 L136.5,492.5 L134,492.5 L131.6,492.6 L129.1,492.6 L126.7,492.6 L124.2,492.6 L121.8,492.7 L119.3,492.7 L116.9,492.7 L114.4,492.7 L111.9,492.8 L109.5,492.8 L107,492.8 L104.6,492.8 L102.1,492.9 L99.7,492.9 L97.2,492.9 L94.8,493 L92.3,493 L89.9,493 L87.4,493.1 L85,493.1 L82.5,493.1 L80.1,493.2 L77.6,493.2 L75.2,493.3 L72.7,493.3 L70.2,493.3 L67.8,493.4 L65.3,493.5 L62.9,493.5 L60.4,493.6 L58,493.7 L55.5,493.8 L53.1,493.9 L50.6,494 L48.2,494.1 L45.7,494.3 L43.3,494.4 L40.8,494.5 L38.4,494.7 L37.3,494.7 L36.3,494.5 L35.6,494.3 L35.1,494 L34.9,493.6 L35.1,493.2 L35.6,492.8 L36.3,492.5 L37.3,492.2 L38.4,492.1 L40.8,492 L43.3,491.8 L45.7,491.7 L48.2,491.6 L50.6,491.5 L53.1,491.3 L55.5,491.2 L58,491.1 L60.4,491 L62.9,491 L65.3,490.9 L67.8,490.8 L70.2,490.8 L72.7,490.7 L75.2,490.7 L77.6,490.7 L80.1,490.6 L82.5,490.6 L85,490.5 L87.4,490.5 L89.9,490.5 L92.3,490.4 L94.8,490.4 L97.2,490.4 L99.7,490.3 L102.1,490.3 L104.6,490.3 L107,490.3 L109.5,490.2 L111.9,490.2 L114.4,490.2 L116.9,490.2 L119.3,490.1 L121.8,490.1 L124.2,490.1 L126.7,490 L129.1,490 L131.6,490 L134,490 L136.5,490 L138.9,489.9 L141.4,489.9" fill="none" stroke="#0d96d6" stroke-width="0.6" stroke-opacity="0.8"/>
<path d="M141.4,485.6 L138.9,486 L136.5,486.3 L134,486.6 L131.6,486.8 L129.1,487.1 L126.7,487.4 L124.2,487.6 L121.8,487.9 L119.3,488.1 L116.9,488.4 L114.4,488.7 L111.9,489.1 L109.5,489.5 L107,489.9 L104.6,490.2 L102.1,490.6 L99.7,491 L97.2,491.3 L94.8,491.6 L92.3,491.8 L89.9,492 L87.4,492.2 L85,492.3 L82.5,492.4 L80.1,492.4 L77.6,492.5 L75.2,492.6 L72.7,492.6 L70.2,492.7 L67.8,492.8 L65.3,493 L62.9,493.1 L60.4,493.2 L58,493.4 L55.5,493.5 L53.1,493.6 L50.6,493.8 L48.2,493.9 L45.7,494.1 L43.3,494.2 L40.8,494.4 L38.4,494.5 L37.3,494.5 L36.3,494.4 L35.6,494.2 L35.1,493.9 L34.9,493.6 L35.1,493.2 L35.6,492.9 L36.3,492.7 L37.3,492.5 L38.4,492.4 L40.8,492.3 L43.3,492.3 L45.7,492.2 L48.2,492.1 L50.6,492 L53.1,491.9 L55.5,491.9 L58,491.8 L60.4,491.7 L62.9,491.6 L65.3,491.5 L67.8,491.4 L70.2,491.2 L72.7,491.1 L75.2,490.9 L77.6,490.8 L80.1,490.5 L82.5,490.2 L85,489.8 L87.4,489.3 L89.9,488.7 L92.3,488.1 L94.8,487.4 L97.2,486.6 L99.7,485.8 L102.1,484.9 L104.6,483.9 L107,483 L109.5,482 L111.9,481 L114.4,479.9 L116.9,478.7 L119.3,477.4 L121.8,476 L124.2,474.5 L126.7,472.9 L129.1,471.3 L131.6,469.5 L134,467.7 L136.5,465.9 L138.9,463.9 L141.4,461.9" fill="none" stroke="#e5832f" stroke-width="0.9" stroke-dasharray="1.2 1.6"/>
<path d="M35.1,493.6 L35.6,493.5 L36.3,493.5 L37.3,493.5 L38.4,493.4 L40.8,493.3 L43.3,493.1 L45.7,493 L48.2,492.9 L50.6,492.7 L53.1,492.6 L55.5,492.5 L58,492.4 L60.4,492.3 L62.9,492.2 L65.3,492.2 L67.8,492.1 L70.2,492.1 L72.7,492 L75.2,492 L77.6,491.9 L80.1,491.9 L82.5,491.9 L85,491.8 L87.4,491.8 L89.9,491.7 L92.3,491.7 L94.8,491.7 L97.2,491.7 L99.7,491.6 L102.1,491.6 L104.6,491.6 L107,491.5 L109.5,491.5 L111.9,491.5 L114.4,491.5 L116.9,491.4 L119.3,491.4 L121.8,491.4 L124.2,491.4 L126.7,491.3 L129.1,491.3 L131.6,491.3 L134,491.3 L136.5,491.2 L138.9,491.2 L141.4,491.2" fill="none" stroke="#0d96d6" stroke-width="2.1"/>
<path d="M35.1,493.6 L35.6,493.6 L36.3,493.5 L37.3,493.5 L38.4,493.4 L40.8,493.3 L43.3,493.2 L45.7,493.1 L48.2,493 L50.6,492.9 L53.1,492.8 L55.5,492.7 L58,492.6 L60.4,492.4 L62.9,492.3 L65.3,492.2 L67.8,492.1 L70.2,492 L72.7,491.9 L75.2,491.8 L77.6,491.6 L80.1,491.5 L82.5,491.3 L85,491.2 L87.4,490.9 L89.9,490.7 L92.3,490.3 L94.8,490 L97.2,489.5 L99.7,489 L102.1,488.5 L104.6,487.9 L107,487.3 L109.5,486.6 L111.9,486 L114.4,485.3 L116.9,484.6 L119.3,484 L121.8,483.3 L124.2,482.7 L126.7,482.1 L129.1,481.4 L131.6,480.7 L134,479.9 L136.5,479.1 L138.9,478.3 L141.4,477.4" fill="none" stroke="#e5832f" stroke-width="1.9" stroke-dasharray="3.9 3.4"/>
<line x1="150.6" x2="267.6" y1="497.6" y2="497.6" stroke="#d0d0d0" stroke-width="1.15"/>
<line x1="150.6" x2="267.6" y1="479.3" y2="479.3" stroke="#d0d0d0" stroke-width="1.15"/>
<line x1="150.6" x2="267.6" y1="461.1" y2="461.1" stroke="#d0d0d0" stroke-width="1.15"/>
<line x1="150.6" x2="267.6" y1="442.8" y2="442.8" stroke="#d0d0d0" stroke-width="1.15"/>
<line x1="150.6" x2="267.6" y1="424.5" y2="424.5" stroke="#d0d0d0" stroke-width="1.15"/>
<path d="M155.8,493.2 L156,492.8 L156.5,492.5 L157.2,492.1 L158.2,491.8 L159.3,491.6 L161.7,491.3 L164.2,491 L166.6,490.7 L169.1,490.4 L171.5,490.1 L174,489.9 L176.4,489.7 L178.9,489.6 L181.3,489.5 L183.8,489.4 L186.2,489.2 L188.7,489.1 L191.1,488.9 L193.6,488.6 L196.1,488.2 L198.5,487.8 L201,487.1 L203.4,486.3 L205.9,485.2 L208.3,483.9 L210.8,482.5 L213.2,481.1 L215.7,479.7 L218.1,478.3 L220.6,476.8 L223,475.1 L225.5,473.2 L227.9,470.9 L230.4,468.4 L232.8,465.5 L235.3,462.4 L237.8,459.2 L240.2,455.7 L242.7,452.1 L245.1,448.3 L247.6,444.3 L250,440.2 L252.5,435.8 L254.9,431.2 L257.4,426.4 L259.8,421.5 L262.3,416.4 L262.3,468.3 L259.8,470 L257.4,471.5 L254.9,473 L252.5,474.3 L250,475.5 L247.6,476.5 L245.1,477.5 L242.7,478.3 L240.2,479.2 L237.8,480 L235.3,480.8 L232.8,481.6 L230.4,482.4 L227.9,483.2 L225.5,484 L223,484.7 L220.6,485.4 L218.1,486.1 L215.7,486.8 L213.2,487.4 L210.8,488.1 L208.3,488.7 L205.9,489.3 L203.4,489.7 L201,490.1 L198.5,490.4 L196.1,490.6 L193.6,490.7 L191.1,490.9 L188.7,491 L186.2,491.1 L183.8,491.2 L181.3,491.3 L178.9,491.4 L176.4,491.6 L174,491.8 L171.5,492 L169.1,492.3 L166.6,492.6 L164.2,492.9 L161.7,493.3 L159.3,493.7 L158.2,493.9 L157.2,493.9 L156.5,493.8 L156,493.5 L155.8,493.2Z" fill="#e5832f" fill-opacity="0.17" stroke="none"/>
<path d="M155.8,493.2 L156,492.8 L156.5,492.3 L157.2,491.9 L158.2,491.6 L159.3,491.3 L161.7,491 L164.2,490.6 L166.6,490.3 L169.1,490 L171.5,489.7 L174,489.5 L176.4,489.4 L178.9,489.3 L181.3,489.2 L183.8,489.1 L186.2,489.1 L188.7,489 L191.1,488.9 L193.6,488.8 L196.1,488.8 L198.5,488.7 L201,488.6 L203.4,488.6 L205.9,488.6 L208.3,488.5 L210.8,488.5 L213.2,488.5 L215.7,488.5 L218.1,488.4 L220.6,488.4 L223,488.4 L225.5,488.4 L227.9,488.4 L230.4,488.4 L232.8,488.4 L235.3,488.4 L237.8,488.4 L240.2,488.5 L242.7,488.5 L245.1,488.5 L247.6,488.5 L250,488.5 L252.5,488.5 L254.9,488.6 L257.4,488.6 L259.8,488.6 L262.3,488.6 L262.3,491.2 L259.8,491.2 L257.4,491.2 L254.9,491.1 L252.5,491.1 L250,491.1 L247.6,491.1 L245.1,491 L242.7,491 L240.2,491 L237.8,491 L235.3,491 L232.8,491 L230.4,491 L227.9,491 L225.5,491 L223,491 L220.6,491 L218.1,491 L215.7,491 L213.2,491 L210.8,491.1 L208.3,491.1 L205.9,491.1 L203.4,491.2 L201,491.2 L198.5,491.3 L196.1,491.3 L193.6,491.4 L191.1,491.5 L188.7,491.5 L186.2,491.6 L183.8,491.7 L181.3,491.8 L178.9,491.8 L176.4,492 L174,492.1 L171.5,492.3 L169.1,492.6 L166.6,492.8 L164.2,493.2 L161.7,493.5 L159.3,493.9 L158.2,494 L157.2,494 L156.5,493.8 L156,493.6 L155.8,493.2Z" fill="#0d96d6" fill-opacity="0.2" stroke="none"/>
<path d="M262.3,491.2 L259.8,491.2 L257.4,491.2 L254.9,491.1 L252.5,491.1 L250,491.1 L247.6,491.1 L245.1,491 L242.7,491 L240.2,491 L237.8,491 L235.3,491 L232.8,491 L230.4,491 L227.9,491 L225.5,491 L223,491 L220.6,491 L218.1,491 L215.7,491 L213.2,491 L210.8,491.1 L208.3,491.1 L205.9,491.1 L203.4,491.2 L201,491.2 L198.5,491.3 L196.1,491.3 L193.6,491.4 L191.1,491.5 L188.7,491.5 L186.2,491.6 L183.8,491.7 L181.3,491.8 L178.9,491.8 L176.4,492 L174,492.1 L171.5,492.3 L169.1,492.6 L166.6,492.8 L164.2,493.2 L161.7,493.5 L159.3,493.9 L158.2,494 L157.2,494 L156.5,493.8 L156,493.6 L155.8,493.2 L156,492.8 L156.5,492.3 L157.2,491.9 L158.2,491.6 L159.3,491.3 L161.7,491 L164.2,490.6 L166.6,490.3 L169.1,490 L171.5,489.7 L174,489.5 L176.4,489.4 L178.9,489.3 L181.3,489.2 L183.8,489.1 L186.2,489.1 L188.7,489 L191.1,488.9 L193.6,488.8 L196.1,488.8 L198.5,488.7 L201,488.6 L203.4,488.6 L205.9,488.6 L208.3,488.5 L210.8,488.5 L213.2,488.5 L215.7,488.5 L218.1,488.4 L220.6,488.4 L223,488.4 L225.5,488.4 L227.9,488.4 L230.4,488.4 L232.8,488.4 L235.3,488.4 L237.8,488.4 L240.2,488.5 L242.7,488.5 L245.1,488.5 L247.6,488.5 L250,488.5 L252.5,488.5 L254.9,488.6 L257.4,488.6 L259.8,488.6 L262.3,488.6" fill="none" stroke="#0d96d6" stroke-width="0.6" stroke-opacity="0.8"/>
<path d="M262.3,468.3 L259.8,470 L257.4,471.5 L254.9,473 L252.5,474.3 L250,475.5 L247.6,476.5 L245.1,477.5 L242.7,478.3 L240.2,479.2 L237.8,480 L235.3,480.8 L232.8,481.6 L230.4,482.4 L227.9,483.2 L225.5,484 L223,484.7 L220.6,485.4 L218.1,486.1 L215.7,486.8 L213.2,487.4 L210.8,488.1 L208.3,488.7 L205.9,489.3 L203.4,489.7 L201,490.1 L198.5,490.4 L196.1,490.6 L193.6,490.7 L191.1,490.9 L188.7,491 L186.2,491.1 L183.8,491.2 L181.3,491.3 L178.9,491.4 L176.4,491.6 L174,491.8 L171.5,492 L169.1,492.3 L166.6,492.6 L164.2,492.9 L161.7,493.3 L159.3,493.7 L158.2,493.9 L157.2,493.9 L156.5,493.8 L156,493.5 L155.8,493.2 L156,492.8 L156.5,492.5 L157.2,492.1 L158.2,491.8 L159.3,491.6 L161.7,491.3 L164.2,491 L166.6,490.7 L169.1,490.4 L171.5,490.1 L174,489.9 L176.4,489.7 L178.9,489.6 L181.3,489.5 L183.8,489.4 L186.2,489.2 L188.7,489.1 L191.1,488.9 L193.6,488.6 L196.1,488.2 L198.5,487.8 L201,487.1 L203.4,486.3 L205.9,485.2 L208.3,483.9 L210.8,482.5 L213.2,481.1 L215.7,479.7 L218.1,478.3 L220.6,476.8 L223,475.1 L225.5,473.2 L227.9,470.9 L230.4,468.4 L232.8,465.5 L235.3,462.4 L237.8,459.2 L240.2,455.7 L242.7,452.1 L245.1,448.3 L247.6,444.3 L250,440.2 L252.5,435.8 L254.9,431.2 L257.4,426.4 L259.8,421.5 L262.3,416.4" fill="none" stroke="#e5832f" stroke-width="0.9" stroke-dasharray="1.2 1.6"/>
<path d="M156,493.2 L156.5,493.1 L157.2,493 L158.2,492.8 L159.3,492.6 L161.7,492.2 L164.2,491.9 L166.6,491.6 L169.1,491.3 L171.5,491 L174,490.8 L176.4,490.7 L178.9,490.6 L181.3,490.5 L183.8,490.4 L186.2,490.3 L188.7,490.3 L191.1,490.2 L193.6,490.1 L196.1,490 L198.5,490 L201,489.9 L203.4,489.9 L205.9,489.8 L208.3,489.8 L210.8,489.8 L213.2,489.8 L215.7,489.7 L218.1,489.7 L220.6,489.7 L223,489.7 L225.5,489.7 L227.9,489.7 L230.4,489.7 L232.8,489.7 L235.3,489.7 L237.8,489.7 L240.2,489.7 L242.7,489.8 L245.1,489.8 L247.6,489.8 L250,489.8 L252.5,489.8 L254.9,489.8 L257.4,489.9 L259.8,489.9 L262.3,489.9" fill="none" stroke="#0d96d6" stroke-width="2.1"/>
<path d="M156,493.2 L156.5,493.1 L157.2,493 L158.2,492.8 L159.3,492.6 L161.7,492.2 L164.2,491.9 L166.6,491.6 L169.1,491.3 L171.5,491.1 L174,490.8 L176.4,490.7 L178.9,490.5 L181.3,490.4 L183.8,490.3 L186.2,490.2 L188.7,490 L191.1,489.9 L193.6,489.7 L196.1,489.5 L198.5,489.2 L201,488.8 L203.4,488.3 L205.9,487.7 L208.3,486.9 L210.8,486.1 L213.2,485.2 L215.7,484.2 L218.1,483.2 L220.6,482.2 L223,481 L225.5,479.7 L227.9,478.4 L230.4,476.8 L232.8,475.2 L235.3,473.6 L237.8,471.9 L240.2,470.1 L242.7,468.4 L245.1,466.6 L247.6,464.7 L250,462.6 L252.5,460.4 L254.9,458.1 L257.4,455.7 L259.8,453.1 L262.3,450.4" fill="none" stroke="#e5832f" stroke-width="1.9" stroke-dasharray="3.9 3.4"/>
<line x1="271.5" x2="388.5" y1="497.6" y2="497.6" stroke="#d0d0d0" stroke-width="1.15"/>
<line x1="271.5" x2="388.5" y1="479.3" y2="479.3" stroke="#d0d0d0" stroke-width="1.15"/>
<line x1="271.5" x2="388.5" y1="461.1" y2="461.1" stroke="#d0d0d0" stroke-width="1.15"/>
<line x1="271.5" x2="388.5" y1="442.8" y2="442.8" stroke="#d0d0d0" stroke-width="1.15"/>
<line x1="271.5" x2="388.5" y1="424.5" y2="424.5" stroke="#d0d0d0" stroke-width="1.15"/>
<path d="M276.7,495.6 L276.9,495.3 L277.4,495.1 L278.1,494.9 L279.1,494.8 L280.2,494.8 L282.6,494.7 L285.1,494.7 L287.5,494.7 L290,494.7 L292.4,494.6 L294.9,494.6 L297.3,494.6 L299.8,494.5 L302.2,494.5 L304.7,494.4 L307.1,494.4 L309.6,494.3 L312,494.3 L314.5,494.2 L317,494.2 L319.4,494.1 L321.9,494.1 L324.3,494 L326.8,493.9 L329.2,493.9 L331.7,493.8 L334.1,493.7 L336.6,493.6 L339,493.5 L341.5,493.4 L343.9,493.3 L346.4,493.1 L348.8,493 L351.3,492.9 L353.7,492.7 L356.2,492.6 L358.7,492.5 L361.1,492.3 L363.6,492.2 L366,492 L368.5,491.8 L370.9,491.7 L373.4,491.5 L375.8,491.3 L378.3,491.1 L380.7,490.9 L383.2,490.7 L383.2,496.3 L380.7,496.3 L378.3,496.3 L375.8,496.3 L373.4,496.3 L370.9,496.3 L368.5,496.3 L366,496.3 L363.6,496.3 L361.1,496.3 L358.7,496.3 L356.2,496.3 L353.7,496.3 L351.3,496.3 L348.8,496.3 L346.4,496.3 L343.9,496.3 L341.5,496.3 L339,496.4 L336.6,496.4 L334.1,496.4 L331.7,496.4 L329.2,496.4 L326.8,496.4 L324.3,496.4 L321.9,496.4 L319.4,496.4 L317,496.4 L314.5,496.4 L312,496.4 L309.6,496.4 L307.1,496.4 L304.7,496.4 L302.2,496.4 L299.8,496.4 L297.3,496.4 L294.9,496.4 L292.4,496.4 L290,496.4 L287.5,496.4 L285.1,496.4 L282.6,496.4 L280.2,496.4 L279.1,496.4 L278.1,496.2 L277.4,496.1 L276.9,495.8 L276.7,495.6Z" fill="#e5832f" fill-opacity="0.17" stroke="none"/>
<path d="M276.7,495.6 L276.9,495.3 L277.4,495.1 L278.1,494.9 L279.1,494.8 L280.2,494.8 L282.6,494.8 L285.1,494.8 L287.5,494.8 L290,494.8 L292.4,494.8 L294.9,494.8 L297.3,494.8 L299.8,494.8 L302.2,494.8 L304.7,494.8 L307.1,494.8 L309.6,494.8 L312,494.8 L314.5,494.8 L317,494.8 L319.4,494.8 L321.9,494.8 L324.3,494.8 L326.8,494.8 L329.2,494.8 L331.7,494.8 L334.1,494.8 L336.6,494.8 L339,494.8 L341.5,494.9 L343.9,494.9 L346.4,494.9 L348.8,494.9 L351.3,494.9 L353.7,494.9 L356.2,494.9 L358.7,494.9 L361.1,494.9 L363.6,494.9 L366,494.9 L368.5,494.9 L370.9,494.9 L373.4,494.9 L375.8,494.9 L378.3,494.9 L380.7,494.9 L383.2,494.9 L383.2,496.5 L380.7,496.5 L378.3,496.5 L375.8,496.5 L373.4,496.5 L370.9,496.5 L368.5,496.5 L366,496.5 L363.6,496.5 L361.1,496.5 L358.7,496.5 L356.2,496.5 L353.7,496.5 L351.3,496.5 L348.8,496.5 L346.4,496.5 L343.9,496.5 L341.5,496.5 L339,496.5 L336.6,496.5 L334.1,496.5 L331.7,496.5 L329.2,496.4 L326.8,496.4 L324.3,496.4 L321.9,496.4 L319.4,496.4 L317,496.4 L314.5,496.4 L312,496.4 L309.6,496.4 L307.1,496.4 L304.7,496.4 L302.2,496.4 L299.8,496.4 L297.3,496.4 L294.9,496.4 L292.4,496.4 L290,496.4 L287.5,496.4 L285.1,496.4 L282.6,496.4 L280.2,496.4 L279.1,496.4 L278.1,496.2 L277.4,496.1 L276.9,495.8 L276.7,495.6Z" fill="#0d96d6" fill-opacity="0.2" stroke="none"/>
<path d="M383.2,496.5 L380.7,496.5 L378.3,496.5 L375.8,496.5 L373.4,496.5 L370.9,496.5 L368.5,496.5 L366,496.5 L363.6,496.5 L361.1,496.5 L358.7,496.5 L356.2,496.5 L353.7,496.5 L351.3,496.5 L348.8,496.5 L346.4,496.5 L343.9,496.5 L341.5,496.5 L339,496.5 L336.6,496.5 L334.1,496.5 L331.7,496.5 L329.2,496.4 L326.8,496.4 L324.3,496.4 L321.9,496.4 L319.4,496.4 L317,496.4 L314.5,496.4 L312,496.4 L309.6,496.4 L307.1,496.4 L304.7,496.4 L302.2,496.4 L299.8,496.4 L297.3,496.4 L294.9,496.4 L292.4,496.4 L290,496.4 L287.5,496.4 L285.1,496.4 L282.6,496.4 L280.2,496.4 L279.1,496.4 L278.1,496.2 L277.4,496.1 L276.9,495.8 L276.7,495.6 L276.9,495.3 L277.4,495.1 L278.1,494.9 L279.1,494.8 L280.2,494.8 L282.6,494.8 L285.1,494.8 L287.5,494.8 L290,494.8 L292.4,494.8 L294.9,494.8 L297.3,494.8 L299.8,494.8 L302.2,494.8 L304.7,494.8 L307.1,494.8 L309.6,494.8 L312,494.8 L314.5,494.8 L317,494.8 L319.4,494.8 L321.9,494.8 L324.3,494.8 L326.8,494.8 L329.2,494.8 L331.7,494.8 L334.1,494.8 L336.6,494.8 L339,494.8 L341.5,494.9 L343.9,494.9 L346.4,494.9 L348.8,494.9 L351.3,494.9 L353.7,494.9 L356.2,494.9 L358.7,494.9 L361.1,494.9 L363.6,494.9 L366,494.9 L368.5,494.9 L370.9,494.9 L373.4,494.9 L375.8,494.9 L378.3,494.9 L380.7,494.9 L383.2,494.9" fill="none" stroke="#0d96d6" stroke-width="0.6" stroke-opacity="0.8"/>
<path d="M383.2,496.3 L380.7,496.3 L378.3,496.3 L375.8,496.3 L373.4,496.3 L370.9,496.3 L368.5,496.3 L366,496.3 L363.6,496.3 L361.1,496.3 L358.7,496.3 L356.2,496.3 L353.7,496.3 L351.3,496.3 L348.8,496.3 L346.4,496.3 L343.9,496.3 L341.5,496.3 L339,496.4 L336.6,496.4 L334.1,496.4 L331.7,496.4 L329.2,496.4 L326.8,496.4 L324.3,496.4 L321.9,496.4 L319.4,496.4 L317,496.4 L314.5,496.4 L312,496.4 L309.6,496.4 L307.1,496.4 L304.7,496.4 L302.2,496.4 L299.8,496.4 L297.3,496.4 L294.9,496.4 L292.4,496.4 L290,496.4 L287.5,496.4 L285.1,496.4 L282.6,496.4 L280.2,496.4 L279.1,496.4 L278.1,496.2 L277.4,496.1 L276.9,495.8 L276.7,495.6 L276.9,495.3 L277.4,495.1 L278.1,494.9 L279.1,494.8 L280.2,494.8 L282.6,494.7 L285.1,494.7 L287.5,494.7 L290,494.7 L292.4,494.6 L294.9,494.6 L297.3,494.6 L299.8,494.5 L302.2,494.5 L304.7,494.4 L307.1,494.4 L309.6,494.3 L312,494.3 L314.5,494.2 L317,494.2 L319.4,494.1 L321.9,494.1 L324.3,494 L326.8,493.9 L329.2,493.9 L331.7,493.8 L334.1,493.7 L336.6,493.6 L339,493.5 L341.5,493.4 L343.9,493.3 L346.4,493.1 L348.8,493 L351.3,492.9 L353.7,492.7 L356.2,492.6 L358.7,492.5 L361.1,492.3 L363.6,492.2 L366,492 L368.5,491.8 L370.9,491.7 L373.4,491.5 L375.8,491.3 L378.3,491.1 L380.7,490.9 L383.2,490.7" fill="none" stroke="#e5832f" stroke-width="0.9" stroke-dasharray="1.2 1.6"/>
<path d="M276.9,495.6 L277.4,495.6 L278.1,495.6 L279.1,495.6 L280.2,495.6 L282.6,495.6 L285.1,495.6 L287.5,495.6 L290,495.6 L292.4,495.6 L294.9,495.6 L297.3,495.6 L299.8,495.6 L302.2,495.6 L304.7,495.6 L307.1,495.6 L309.6,495.6 L312,495.6 L314.5,495.6 L317,495.6 L319.4,495.6 L321.9,495.6 L324.3,495.6 L326.8,495.6 L329.2,495.6 L331.7,495.6 L334.1,495.6 L336.6,495.7 L339,495.7 L341.5,495.7 L343.9,495.7 L346.4,495.7 L348.8,495.7 L351.3,495.7 L353.7,495.7 L356.2,495.7 L358.7,495.7 L361.1,495.7 L363.6,495.7 L366,495.7 L368.5,495.7 L370.9,495.7 L373.4,495.7 L375.8,495.7 L378.3,495.7 L380.7,495.7 L383.2,495.7" fill="none" stroke="#0d96d6" stroke-width="2.1"/>
<path d="M276.9,495.6 L277.4,495.6 L278.1,495.6 L279.1,495.6 L280.2,495.5 L282.6,495.5 L285.1,495.5 L287.5,495.5 L290,495.4 L292.4,495.4 L294.9,495.4 L297.3,495.3 L299.8,495.3 L302.2,495.3 L304.7,495.2 L307.1,495.2 L309.6,495.2 L312,495.1 L314.5,495.1 L317,495.1 L319.4,495 L321.9,495 L324.3,495 L326.8,494.9 L329.2,494.9 L331.7,494.9 L334.1,494.8 L336.6,494.8 L339,494.8 L341.5,494.7 L343.9,494.7 L346.4,494.6 L348.8,494.6 L351.3,494.6 L353.7,494.5 L356.2,494.5 L358.7,494.5 L361.1,494.4 L363.6,494.4 L366,494.4 L368.5,494.3 L370.9,494.3 L373.4,494.2 L375.8,494.2 L378.3,494.2 L380.7,494.1 L383.2,494.1" fill="none" stroke="#e5832f" stroke-width="1.9" stroke-dasharray="3.9 3.4"/>
<line x1="392.4" x2="509.4" y1="497.6" y2="497.6" stroke="#d0d0d0" stroke-width="1.15"/>
<line x1="392.4" x2="509.4" y1="479.3" y2="479.3" stroke="#d0d0d0" stroke-width="1.15"/>
<line x1="392.4" x2="509.4" y1="461.1" y2="461.1" stroke="#d0d0d0" stroke-width="1.15"/>
<line x1="392.4" x2="509.4" y1="442.8" y2="442.8" stroke="#d0d0d0" stroke-width="1.15"/>
<line x1="392.4" x2="509.4" y1="424.5" y2="424.5" stroke="#d0d0d0" stroke-width="1.15"/>
<path d="M397.6,496.6 L397.8,496.4 L398.3,496.2 L399,496.1 L400,496 L401.1,495.9 L403.5,495.9 L406,495.9 L408.4,495.8 L410.9,495.8 L413.3,495.8 L415.8,495.7 L418.2,495.6 L420.7,495.6 L423.1,495.5 L425.6,495.4 L428,495.3 L430.5,495.2 L432.9,495 L435.4,494.8 L437.9,494.6 L440.3,494.4 L442.8,494.2 L445.2,493.9 L447.7,493.7 L450.1,493.5 L452.6,493.3 L455,493 L457.5,492.7 L459.9,492.2 L462.4,491.7 L464.8,491.2 L467.3,490.6 L469.7,490.1 L472.2,489.6 L474.6,489.1 L477.1,488.6 L479.6,488.1 L482,487.5 L484.5,486.9 L486.9,486.3 L489.4,485.6 L491.8,484.9 L494.3,484.1 L496.7,483.2 L499.2,482.3 L501.6,481.3 L504.1,480.2 L504.1,495.8 L501.6,495.8 L499.2,495.8 L496.7,495.9 L494.3,495.9 L491.8,495.9 L489.4,496 L486.9,496 L484.5,496 L482,496.1 L479.6,496.1 L477.1,496.1 L474.6,496.2 L472.2,496.2 L469.7,496.2 L467.3,496.3 L464.8,496.3 L462.4,496.3 L459.9,496.3 L457.5,496.4 L455,496.4 L452.6,496.4 L450.1,496.5 L447.7,496.5 L445.2,496.5 L442.8,496.6 L440.3,496.6 L437.9,496.6 L435.4,496.7 L432.9,496.7 L430.5,496.7 L428,496.8 L425.6,496.8 L423.1,496.8 L420.7,496.9 L418.2,496.9 L415.8,496.9 L413.3,497 L410.9,497 L408.4,497 L406,497.1 L403.5,497.1 L401.1,497.1 L400,497.1 L399,497 L398.3,496.9 L397.8,496.8 L397.6,496.6Z" fill="#e5832f" fill-opacity="0.17" stroke="none"/>
<path d="M397.6,496.6 L397.8,496.3 L398.3,496 L399,495.7 L400,495.6 L401.1,495.5 L403.5,495.5 L406,495.4 L408.4,495.4 L410.9,495.4 L413.3,495.3 L415.8,495.3 L418.2,495.2 L420.7,495.2 L423.1,495.2 L425.6,495.1 L428,495.1 L430.5,495.1 L432.9,495 L435.4,495 L437.9,495 L440.3,494.9 L442.8,494.9 L445.2,494.9 L447.7,494.8 L450.1,494.8 L452.6,494.8 L455,494.7 L457.5,494.7 L459.9,494.7 L462.4,494.7 L464.8,494.7 L467.3,494.6 L469.7,494.6 L472.2,494.6 L474.6,494.6 L477.1,494.5 L479.6,494.5 L482,494.5 L484.5,494.5 L486.9,494.5 L489.4,494.5 L491.8,494.4 L494.3,494.4 L496.7,494.4 L499.2,494.4 L501.6,494.4 L504.1,494.4 L504.1,496.4 L501.6,496.4 L499.2,496.5 L496.7,496.5 L494.3,496.5 L491.8,496.5 L489.4,496.5 L486.9,496.5 L484.5,496.5 L482,496.6 L479.6,496.6 L477.1,496.6 L474.6,496.6 L472.2,496.6 L469.7,496.7 L467.3,496.7 L464.8,496.7 L462.4,496.7 L459.9,496.7 L457.5,496.8 L455,496.8 L452.6,496.8 L450.1,496.8 L447.7,496.9 L445.2,496.9 L442.8,496.9 L440.3,497 L437.9,497 L435.4,497 L432.9,497.1 L430.5,497.1 L428,497.2 L425.6,497.2 L423.1,497.2 L420.7,497.3 L418.2,497.3 L415.8,497.3 L413.3,497.4 L410.9,497.4 L408.4,497.4 L406,497.5 L403.5,497.5 L401.1,497.5 L400,497.5 L399,497.4 L398.3,497.2 L397.8,496.9 L397.6,496.6Z" fill="#0d96d6" fill-opacity="0.2" stroke="none"/>
<path d="M504.1,496.4 L501.6,496.4 L499.2,496.5 L496.7,496.5 L494.3,496.5 L491.8,496.5 L489.4,496.5 L486.9,496.5 L484.5,496.5 L482,496.6 L479.6,496.6 L477.1,496.6 L474.6,496.6 L472.2,496.6 L469.7,496.7 L467.3,496.7 L464.8,496.7 L462.4,496.7 L459.9,496.7 L457.5,496.8 L455,496.8 L452.6,496.8 L450.1,496.8 L447.7,496.9 L445.2,496.9 L442.8,496.9 L440.3,497 L437.9,497 L435.4,497 L432.9,497.1 L430.5,497.1 L428,497.2 L425.6,497.2 L423.1,497.2 L420.7,497.3 L418.2,497.3 L415.8,497.3 L413.3,497.4 L410.9,497.4 L408.4,497.4 L406,497.5 L403.5,497.5 L401.1,497.5 L400,497.5 L399,497.4 L398.3,497.2 L397.8,496.9 L397.6,496.6 L397.8,496.3 L398.3,496 L399,495.7 L400,495.6 L401.1,495.5 L403.5,495.5 L406,495.4 L408.4,495.4 L410.9,495.4 L413.3,495.3 L415.8,495.3 L418.2,495.2 L420.7,495.2 L423.1,495.2 L425.6,495.1 L428,495.1 L430.5,495.1 L432.9,495 L435.4,495 L437.9,495 L440.3,494.9 L442.8,494.9 L445.2,494.9 L447.7,494.8 L450.1,494.8 L452.6,494.8 L455,494.7 L457.5,494.7 L459.9,494.7 L462.4,494.7 L464.8,494.7 L467.3,494.6 L469.7,494.6 L472.2,494.6 L474.6,494.6 L477.1,494.5 L479.6,494.5 L482,494.5 L484.5,494.5 L486.9,494.5 L489.4,494.5 L491.8,494.4 L494.3,494.4 L496.7,494.4 L499.2,494.4 L501.6,494.4 L504.1,494.4" fill="none" stroke="#0d96d6" stroke-width="0.6" stroke-opacity="0.8"/>
<path d="M504.1,495.8 L501.6,495.8 L499.2,495.8 L496.7,495.9 L494.3,495.9 L491.8,495.9 L489.4,496 L486.9,496 L484.5,496 L482,496.1 L479.6,496.1 L477.1,496.1 L474.6,496.2 L472.2,496.2 L469.7,496.2 L467.3,496.3 L464.8,496.3 L462.4,496.3 L459.9,496.3 L457.5,496.4 L455,496.4 L452.6,496.4 L450.1,496.5 L447.7,496.5 L445.2,496.5 L442.8,496.6 L440.3,496.6 L437.9,496.6 L435.4,496.7 L432.9,496.7 L430.5,496.7 L428,496.8 L425.6,496.8 L423.1,496.8 L420.7,496.9 L418.2,496.9 L415.8,496.9 L413.3,497 L410.9,497 L408.4,497 L406,497.1 L403.5,497.1 L401.1,497.1 L400,497.1 L399,497 L398.3,496.9 L397.8,496.8 L397.6,496.6 L397.8,496.4 L398.3,496.2 L399,496.1 L400,496 L401.1,495.9 L403.5,495.9 L406,495.9 L408.4,495.8 L410.9,495.8 L413.3,495.8 L415.8,495.7 L418.2,495.6 L420.7,495.6 L423.1,495.5 L425.6,495.4 L428,495.3 L430.5,495.2 L432.9,495 L435.4,494.8 L437.9,494.6 L440.3,494.4 L442.8,494.2 L445.2,493.9 L447.7,493.7 L450.1,493.5 L452.6,493.3 L455,493 L457.5,492.7 L459.9,492.2 L462.4,491.7 L464.8,491.2 L467.3,490.6 L469.7,490.1 L472.2,489.6 L474.6,489.1 L477.1,488.6 L479.6,488.1 L482,487.5 L484.5,486.9 L486.9,486.3 L489.4,485.6 L491.8,484.9 L494.3,484.1 L496.7,483.2 L499.2,482.3 L501.6,481.3 L504.1,480.2" fill="none" stroke="#e5832f" stroke-width="0.9" stroke-dasharray="1.2 1.6"/>
<path d="M397.8,496.6 L398.3,496.6 L399,496.6 L400,496.5 L401.1,496.5 L403.5,496.5 L406,496.5 L408.4,496.4 L410.9,496.4 L413.3,496.3 L415.8,496.3 L418.2,496.3 L420.7,496.2 L423.1,496.2 L425.6,496.2 L428,496.1 L430.5,496.1 L432.9,496.1 L435.4,496 L437.9,496 L440.3,496 L442.8,495.9 L445.2,495.9 L447.7,495.9 L450.1,495.8 L452.6,495.8 L455,495.8 L457.5,495.7 L459.9,495.7 L462.4,495.7 L464.8,495.7 L467.3,495.7 L469.7,495.6 L472.2,495.6 L474.6,495.6 L477.1,495.6 L479.6,495.5 L482,495.5 L484.5,495.5 L486.9,495.5 L489.4,495.5 L491.8,495.5 L494.3,495.5 L496.7,495.4 L499.2,495.4 L501.6,495.4 L504.1,495.4" fill="none" stroke="#0d96d6" stroke-width="2.1"/>
<path d="M397.8,496.6 L398.3,496.6 L399,496.6 L400,496.6 L401.1,496.5 L403.5,496.5 L406,496.5 L408.4,496.4 L410.9,496.4 L413.3,496.4 L415.8,496.3 L418.2,496.3 L420.7,496.2 L423.1,496.2 L425.6,496.1 L428,496.1 L430.5,496 L432.9,495.9 L435.4,495.9 L437.9,495.8 L440.3,495.7 L442.8,495.6 L445.2,495.5 L447.7,495.4 L450.1,495.3 L452.6,495.2 L455,495.1 L457.5,495 L459.9,494.8 L462.4,494.7 L464.8,494.6 L467.3,494.5 L469.7,494.4 L472.2,494.3 L474.6,494.1 L477.1,494 L479.6,493.8 L482,493.6 L484.5,493.4 L486.9,493.2 L489.4,493 L491.8,492.8 L494.3,492.5 L496.7,492.2 L499.2,491.9 L501.6,491.6 L504.1,491.3" fill="none" stroke="#e5832f" stroke-width="1.9" stroke-dasharray="3.9 3.4"/>
<text transform="translate(512.8 456.5) rotate(90) scale(0.943 1)" font-size="9.54" text-anchor="middle" fill="#1a1a1a" font-weight="normal">Type 2 diabetes</text>
<path d="M29.7,412.4 L29.7,500.9 L146.7,500.9" fill="none" stroke="#4a4a4a" stroke-width="1.1" stroke-linejoin="round"/>
<line x1="27.1" x2="29.7" y1="497.6" y2="497.6" stroke="#4a4a4a" stroke-width="1"/>
<text transform="translate(26.1 500.7) scale(0.943 1)" font-size="9.33" text-anchor="end" fill="#4d4d4d" font-weight="normal">0</text>
<line x1="27.1" x2="29.7" y1="479.3" y2="479.3" stroke="#4a4a4a" stroke-width="1"/>
<text transform="translate(26.1 482.4) scale(0.943 1)" font-size="9.33" text-anchor="end" fill="#4d4d4d" font-weight="normal">50</text>
<line x1="27.1" x2="29.7" y1="461.1" y2="461.1" stroke="#4a4a4a" stroke-width="1"/>
<text transform="translate(26.1 464.2) scale(0.943 1)" font-size="9.33" text-anchor="end" fill="#4d4d4d" font-weight="normal">100</text>
<line x1="27.1" x2="29.7" y1="442.8" y2="442.8" stroke="#4a4a4a" stroke-width="1"/>
<text transform="translate(26.1 445.9) scale(0.943 1)" font-size="9.33" text-anchor="end" fill="#4d4d4d" font-weight="normal">150</text>
<line x1="27.1" x2="29.7" y1="424.5" y2="424.5" stroke="#4a4a4a" stroke-width="1"/>
<text transform="translate(26.1 427.6) scale(0.943 1)" font-size="9.33" text-anchor="end" fill="#4d4d4d" font-weight="normal">200</text>
<line x1="42.4" x2="42.4" y1="500.9" y2="503.6" stroke="#4a4a4a" stroke-width="1"/>
<text transform="translate(42.4 511.2) scale(0.943 1)" font-size="9.33" text-anchor="middle" fill="#4d4d4d" font-weight="normal">2020</text>
<line x1="67.2" x2="67.2" y1="500.9" y2="503.6" stroke="#4a4a4a" stroke-width="1"/>
<text transform="translate(67.2 511.2) scale(0.943 1)" font-size="9.33" text-anchor="middle" fill="#4d4d4d" font-weight="normal">2030</text>
<line x1="91.9" x2="91.9" y1="500.9" y2="503.6" stroke="#4a4a4a" stroke-width="1"/>
<text transform="translate(91.9 511.2) scale(0.943 1)" font-size="9.33" text-anchor="middle" fill="#4d4d4d" font-weight="normal">2040</text>
<line x1="116.6" x2="116.6" y1="500.9" y2="503.6" stroke="#4a4a4a" stroke-width="1"/>
<text transform="translate(116.6 511.2) scale(0.943 1)" font-size="9.33" text-anchor="middle" fill="#4d4d4d" font-weight="normal">2050</text>
<line x1="141.4" x2="141.4" y1="500.9" y2="503.6" stroke="#4a4a4a" stroke-width="1"/>
<text transform="translate(141.4 511.2) scale(0.943 1)" font-size="9.33" text-anchor="middle" fill="#4d4d4d" font-weight="normal">2060</text>
<line x1="150.6" x2="267.6" y1="500.9" y2="500.9" stroke="#4a4a4a" stroke-width="1.1"/>
<line x1="163.3" x2="163.3" y1="500.9" y2="503.6" stroke="#4a4a4a" stroke-width="1"/>
<text transform="translate(163.3 511.2) scale(0.943 1)" font-size="9.33" text-anchor="middle" fill="#4d4d4d" font-weight="normal">2020</text>
<line x1="188.1" x2="188.1" y1="500.9" y2="503.6" stroke="#4a4a4a" stroke-width="1"/>
<text transform="translate(188.1 511.2) scale(0.943 1)" font-size="9.33" text-anchor="middle" fill="#4d4d4d" font-weight="normal">2030</text>
<line x1="212.8" x2="212.8" y1="500.9" y2="503.6" stroke="#4a4a4a" stroke-width="1"/>
<text transform="translate(212.8 511.2) scale(0.943 1)" font-size="9.33" text-anchor="middle" fill="#4d4d4d" font-weight="normal">2040</text>
<line x1="237.5" x2="237.5" y1="500.9" y2="503.6" stroke="#4a4a4a" stroke-width="1"/>
<text transform="translate(237.5 511.2) scale(0.943 1)" font-size="9.33" text-anchor="middle" fill="#4d4d4d" font-weight="normal">2050</text>
<line x1="262.3" x2="262.3" y1="500.9" y2="503.6" stroke="#4a4a4a" stroke-width="1"/>
<text transform="translate(262.3 511.2) scale(0.943 1)" font-size="9.33" text-anchor="middle" fill="#4d4d4d" font-weight="normal">2060</text>
<line x1="271.5" x2="388.5" y1="500.9" y2="500.9" stroke="#4a4a4a" stroke-width="1.1"/>
<line x1="284.2" x2="284.2" y1="500.9" y2="503.6" stroke="#4a4a4a" stroke-width="1"/>
<text transform="translate(284.2 511.2) scale(0.943 1)" font-size="9.33" text-anchor="middle" fill="#4d4d4d" font-weight="normal">2020</text>
<line x1="309" x2="309" y1="500.9" y2="503.6" stroke="#4a4a4a" stroke-width="1"/>
<text transform="translate(309 511.2) scale(0.943 1)" font-size="9.33" text-anchor="middle" fill="#4d4d4d" font-weight="normal">2030</text>
<line x1="333.7" x2="333.7" y1="500.9" y2="503.6" stroke="#4a4a4a" stroke-width="1"/>
<text transform="translate(333.7 511.2) scale(0.943 1)" font-size="9.33" text-anchor="middle" fill="#4d4d4d" font-weight="normal">2040</text>
<line x1="358.4" x2="358.4" y1="500.9" y2="503.6" stroke="#4a4a4a" stroke-width="1"/>
<text transform="translate(358.4 511.2) scale(0.943 1)" font-size="9.33" text-anchor="middle" fill="#4d4d4d" font-weight="normal">2050</text>
<line x1="383.2" x2="383.2" y1="500.9" y2="503.6" stroke="#4a4a4a" stroke-width="1"/>
<text transform="translate(383.2 511.2) scale(0.943 1)" font-size="9.33" text-anchor="middle" fill="#4d4d4d" font-weight="normal">2060</text>
<line x1="392.4" x2="509.4" y1="500.9" y2="500.9" stroke="#4a4a4a" stroke-width="1.1"/>
<line x1="405.1" x2="405.1" y1="500.9" y2="503.6" stroke="#4a4a4a" stroke-width="1"/>
<text transform="translate(405.1 511.2) scale(0.943 1)" font-size="9.33" text-anchor="middle" fill="#4d4d4d" font-weight="normal">2020</text>
<line x1="429.9" x2="429.9" y1="500.9" y2="503.6" stroke="#4a4a4a" stroke-width="1"/>
<text transform="translate(429.9 511.2) scale(0.943 1)" font-size="9.33" text-anchor="middle" fill="#4d4d4d" font-weight="normal">2030</text>
<line x1="454.6" x2="454.6" y1="500.9" y2="503.6" stroke="#4a4a4a" stroke-width="1"/>
<text transform="translate(454.6 511.2) scale(0.943 1)" font-size="9.33" text-anchor="middle" fill="#4d4d4d" font-weight="normal">2040</text>
<line x1="479.3" x2="479.3" y1="500.9" y2="503.6" stroke="#4a4a4a" stroke-width="1"/>
<text transform="translate(479.3 511.2) scale(0.943 1)" font-size="9.33" text-anchor="middle" fill="#4d4d4d" font-weight="normal">2050</text>
<line x1="504.1" x2="504.1" y1="500.9" y2="503.6" stroke="#4a4a4a" stroke-width="1"/>
<text transform="translate(504.1 511.2) scale(0.943 1)" font-size="9.33" text-anchor="middle" fill="#4d4d4d" font-weight="normal">2060</text>
<text transform="translate(269.5 521.5) scale(0.943 1)" font-size="10.07" text-anchor="middle" fill="#1a1a1a" font-weight="normal">Year</text>
<text transform="translate(7.8 408.5) rotate(-90) scale(0.943 1)" font-size="9.54" text-anchor="middle" fill="#1a1a1a" font-weight="normal">Cases in 1,000s</text>
<rect x="174.5" y="269.9" width="12" height="12" fill="#0d96d6" fill-opacity="0.2" stroke="#0d96d6" stroke-opacity="0.75" stroke-width="1" rx="0.8"/>
<line x1="174.5" x2="186.5" y1="275.9" y2="275.9" stroke="#0d96d6" stroke-width="1.3"/>
<text transform="translate(191.4 280.1) scale(0.943 1)" font-size="9.38" text-anchor="start" fill="#1a1a1a" font-weight="normal">Constant incidence</text>
<rect x="271.4" y="269.9" width="12" height="12" fill="#e5832f" fill-opacity="0.2" stroke="#e5832f" stroke-width="1" stroke-dasharray="1.2 1.15"/>
<line x1="271.7" x2="283.4" y1="275.9" y2="275.9" stroke="#e5832f" stroke-width="1.4" stroke-dasharray="4.2 3.6"/>
<text transform="translate(288.4 280.1) scale(0.943 1)" font-size="9.51" text-anchor="start" fill="#1a1a1a" font-weight="normal">Increasing incidence</text>
<text transform="translate(0.2 280) scale(0.943 1)" font-size="15.69" text-anchor="start" fill="#000" font-weight="bold">B</text>
</svg>
</body></html>
